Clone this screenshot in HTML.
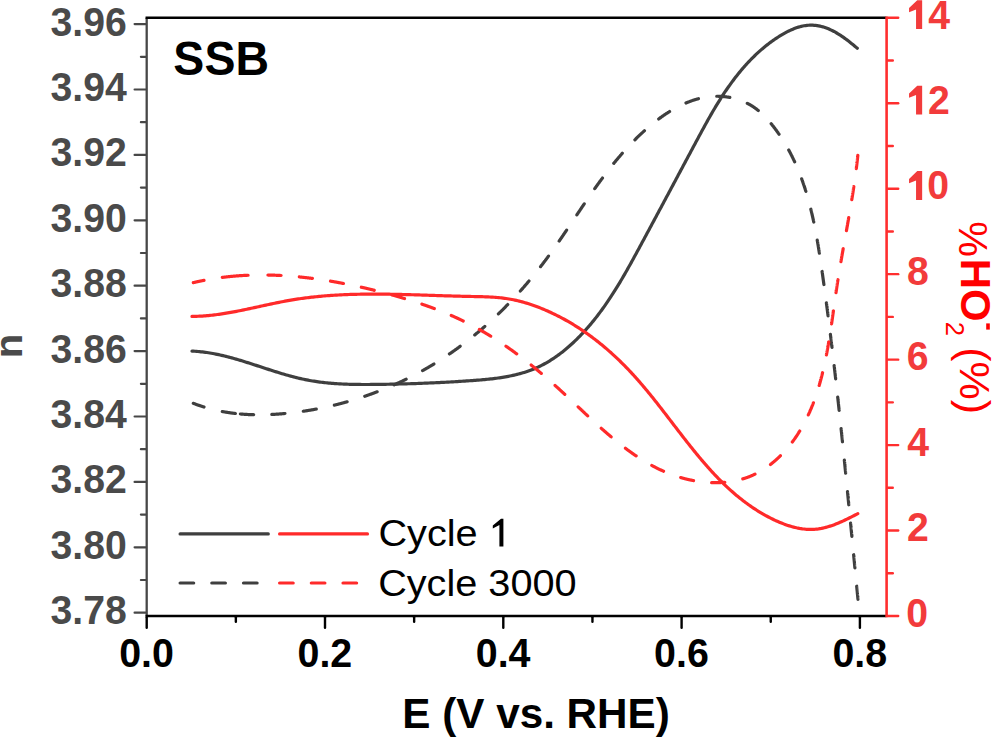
<!DOCTYPE html>
<html><head><meta charset="utf-8"><style>
html,body{margin:0;padding:0;background:#fff;width:992px;height:738px;overflow:hidden}
svg{position:absolute;left:0;top:0}
.b{font-family:"Liberation Sans",sans-serif;font-weight:bold}
.r{font-family:"Liberation Sans",sans-serif}
</style></head><body>
<svg width="992" height="738" viewBox="0 0 992 738">
<line x1="146.7" y1="17.8" x2="146.7" y2="616.0" stroke="#474747" stroke-width="2.3"/>
<line x1="145.54999999999998" y1="17.8" x2="886.6" y2="17.8" stroke="#000" stroke-width="2.5"/>
<line x1="145.54999999999998" y1="616.0" x2="886.6" y2="616.0" stroke="#000" stroke-width="2.5"/>
<line x1="886.6" y1="16.55" x2="886.6" y2="617.25" stroke="#ff2e2e" stroke-width="2.6"/>
<line x1="134.6" y1="612.70" x2="145.6" y2="612.70" stroke="#474747" stroke-width="2.2" stroke-linecap="round"/>
<line x1="140.9" y1="580.00" x2="145.6" y2="580.00" stroke="#474747" stroke-width="2.2" stroke-linecap="round"/>
<g transform="matrix(0.9799,0,0,1.0221,126.81,624.22)"><text x="0" y="0" text-anchor="end" class="b" font-size="40" fill="#4a4a4a">3.78</text></g>
<line x1="134.6" y1="547.30" x2="145.6" y2="547.30" stroke="#474747" stroke-width="2.2" stroke-linecap="round"/>
<line x1="140.9" y1="514.60" x2="145.6" y2="514.60" stroke="#474747" stroke-width="2.2" stroke-linecap="round"/>
<g transform="matrix(0.9799,0,0,1.0221,126.81,558.82)"><text x="0" y="0" text-anchor="end" class="b" font-size="40" fill="#4a4a4a">3.80</text></g>
<line x1="134.6" y1="481.90" x2="145.6" y2="481.90" stroke="#474747" stroke-width="2.2" stroke-linecap="round"/>
<line x1="140.9" y1="449.20" x2="145.6" y2="449.20" stroke="#474747" stroke-width="2.2" stroke-linecap="round"/>
<g transform="matrix(0.9799,0,0,1.0221,126.81,493.42)"><text x="0" y="0" text-anchor="end" class="b" font-size="40" fill="#4a4a4a">3.82</text></g>
<line x1="134.6" y1="416.50" x2="145.6" y2="416.50" stroke="#474747" stroke-width="2.2" stroke-linecap="round"/>
<line x1="140.9" y1="383.80" x2="145.6" y2="383.80" stroke="#474747" stroke-width="2.2" stroke-linecap="round"/>
<g transform="matrix(0.9799,0,0,1.0221,126.81,428.02)"><text x="0" y="0" text-anchor="end" class="b" font-size="40" fill="#4a4a4a">3.84</text></g>
<line x1="134.6" y1="351.10" x2="145.6" y2="351.10" stroke="#474747" stroke-width="2.2" stroke-linecap="round"/>
<line x1="140.9" y1="318.40" x2="145.6" y2="318.40" stroke="#474747" stroke-width="2.2" stroke-linecap="round"/>
<g transform="matrix(0.9799,0,0,1.0221,126.81,362.62)"><text x="0" y="0" text-anchor="end" class="b" font-size="40" fill="#4a4a4a">3.86</text></g>
<line x1="134.6" y1="285.70" x2="145.6" y2="285.70" stroke="#474747" stroke-width="2.2" stroke-linecap="round"/>
<line x1="140.9" y1="253.00" x2="145.6" y2="253.00" stroke="#474747" stroke-width="2.2" stroke-linecap="round"/>
<g transform="matrix(0.9799,0,0,1.0221,126.81,297.22)"><text x="0" y="0" text-anchor="end" class="b" font-size="40" fill="#4a4a4a">3.88</text></g>
<line x1="134.6" y1="220.30" x2="145.6" y2="220.30" stroke="#474747" stroke-width="2.2" stroke-linecap="round"/>
<line x1="140.9" y1="187.60" x2="145.6" y2="187.60" stroke="#474747" stroke-width="2.2" stroke-linecap="round"/>
<g transform="matrix(0.9799,0,0,1.0221,126.81,231.82)"><text x="0" y="0" text-anchor="end" class="b" font-size="40" fill="#4a4a4a">3.90</text></g>
<line x1="134.6" y1="154.90" x2="145.6" y2="154.90" stroke="#474747" stroke-width="2.2" stroke-linecap="round"/>
<line x1="140.9" y1="122.20" x2="145.6" y2="122.20" stroke="#474747" stroke-width="2.2" stroke-linecap="round"/>
<g transform="matrix(0.9799,0,0,1.0221,126.81,166.42)"><text x="0" y="0" text-anchor="end" class="b" font-size="40" fill="#4a4a4a">3.92</text></g>
<line x1="134.6" y1="89.50" x2="145.6" y2="89.50" stroke="#474747" stroke-width="2.2" stroke-linecap="round"/>
<line x1="140.9" y1="56.80" x2="145.6" y2="56.80" stroke="#474747" stroke-width="2.2" stroke-linecap="round"/>
<g transform="matrix(0.9799,0,0,1.0221,126.81,101.02)"><text x="0" y="0" text-anchor="end" class="b" font-size="40" fill="#4a4a4a">3.94</text></g>
<line x1="134.6" y1="24.10" x2="145.6" y2="24.10" stroke="#474747" stroke-width="2.2" stroke-linecap="round"/>
<g transform="matrix(0.9799,0,0,1.0221,126.81,35.62)"><text x="0" y="0" text-anchor="end" class="b" font-size="40" fill="#4a4a4a">3.96</text></g>
<line x1="146.70" y1="617.2" x2="146.70" y2="627.8" stroke="#000" stroke-width="2.4" stroke-linecap="round"/>
<g transform="matrix(0.9845,0,0,1.0357,146.54,667.00)"><text x="0" y="0" text-anchor="middle" class="b" font-size="40" fill="#000">0.0</text></g>
<line x1="235.85" y1="617.2" x2="235.85" y2="621.8" stroke="#000" stroke-width="2.4" stroke-linecap="round"/>
<line x1="325.00" y1="617.2" x2="325.00" y2="627.8" stroke="#000" stroke-width="2.4" stroke-linecap="round"/>
<g transform="matrix(0.9845,0,0,1.0357,324.84,667.00)"><text x="0" y="0" text-anchor="middle" class="b" font-size="40" fill="#000">0.2</text></g>
<line x1="414.15" y1="617.2" x2="414.15" y2="621.8" stroke="#000" stroke-width="2.4" stroke-linecap="round"/>
<line x1="503.30" y1="617.2" x2="503.30" y2="627.8" stroke="#000" stroke-width="2.4" stroke-linecap="round"/>
<g transform="matrix(0.9845,0,0,1.0357,503.14,667.00)"><text x="0" y="0" text-anchor="middle" class="b" font-size="40" fill="#000">0.4</text></g>
<line x1="592.45" y1="617.2" x2="592.45" y2="621.8" stroke="#000" stroke-width="2.4" stroke-linecap="round"/>
<line x1="681.60" y1="617.2" x2="681.60" y2="627.8" stroke="#000" stroke-width="2.4" stroke-linecap="round"/>
<g transform="matrix(0.9845,0,0,1.0357,681.44,667.00)"><text x="0" y="0" text-anchor="middle" class="b" font-size="40" fill="#000">0.6</text></g>
<line x1="770.75" y1="617.2" x2="770.75" y2="621.8" stroke="#000" stroke-width="2.4" stroke-linecap="round"/>
<line x1="859.90" y1="617.2" x2="859.90" y2="627.8" stroke="#000" stroke-width="2.4" stroke-linecap="round"/>
<g transform="matrix(0.9845,0,0,1.0357,859.74,667.00)"><text x="0" y="0" text-anchor="middle" class="b" font-size="40" fill="#000">0.8</text></g>
<line x1="887.8000000000001" y1="616.00" x2="898.2" y2="616.00" stroke="#ff2e2e" stroke-width="2.4" stroke-linecap="round"/>
<g transform="matrix(0.9808,0,0,1.0120,906.33,626.73)"><text x="0" y="0" text-anchor="start" class="b" font-size="40" fill="#f23b3b">0</text></g>
<line x1="887.8000000000001" y1="573.27" x2="892.8000000000001" y2="573.27" stroke="#ff2e2e" stroke-width="2.4" stroke-linecap="round"/>
<line x1="887.8000000000001" y1="530.54" x2="898.2" y2="530.54" stroke="#ff2e2e" stroke-width="2.4" stroke-linecap="round"/>
<g transform="matrix(0.9808,0,0,1.0120,906.89,541.27)"><text x="0" y="0" text-anchor="start" class="b" font-size="40" fill="#f23b3b">2</text></g>
<line x1="887.8000000000001" y1="487.81" x2="892.8000000000001" y2="487.81" stroke="#ff2e2e" stroke-width="2.4" stroke-linecap="round"/>
<line x1="887.8000000000001" y1="445.09" x2="898.2" y2="445.09" stroke="#ff2e2e" stroke-width="2.4" stroke-linecap="round"/>
<g transform="matrix(0.9808,0,0,1.0120,907.31,455.82)"><text x="0" y="0" text-anchor="start" class="b" font-size="40" fill="#f23b3b">4</text></g>
<line x1="887.8000000000001" y1="402.36" x2="892.8000000000001" y2="402.36" stroke="#ff2e2e" stroke-width="2.4" stroke-linecap="round"/>
<line x1="887.8000000000001" y1="359.63" x2="898.2" y2="359.63" stroke="#ff2e2e" stroke-width="2.4" stroke-linecap="round"/>
<g transform="matrix(0.9808,0,0,1.0120,906.80,370.36)"><text x="0" y="0" text-anchor="start" class="b" font-size="40" fill="#f23b3b">6</text></g>
<line x1="887.8000000000001" y1="316.90" x2="892.8000000000001" y2="316.90" stroke="#ff2e2e" stroke-width="2.4" stroke-linecap="round"/>
<line x1="887.8000000000001" y1="274.17" x2="898.2" y2="274.17" stroke="#ff2e2e" stroke-width="2.4" stroke-linecap="round"/>
<g transform="matrix(0.9808,0,0,1.0120,906.97,284.90)"><text x="0" y="0" text-anchor="start" class="b" font-size="40" fill="#f23b3b">8</text></g>
<line x1="887.8000000000001" y1="231.44" x2="892.8000000000001" y2="231.44" stroke="#ff2e2e" stroke-width="2.4" stroke-linecap="round"/>
<line x1="887.8000000000001" y1="188.71" x2="898.2" y2="188.71" stroke="#ff2e2e" stroke-width="2.4" stroke-linecap="round"/>
<path d="M922.15,199.91 L916.05,199.91 L916.05,180.51 L909.05,183.21 L909.05,179.01 L917.25,171.11 L922.15,171.11 Z" fill="#f23b3b"/>
<g transform="matrix(0.9808,0,0,1.0120,927.33,199.45)"><text x="0" y="0" text-anchor="start" class="b" font-size="40" fill="#f23b3b">0</text></g>
<line x1="887.8000000000001" y1="145.99" x2="892.8000000000001" y2="145.99" stroke="#ff2e2e" stroke-width="2.4" stroke-linecap="round"/>
<line x1="887.8000000000001" y1="103.26" x2="898.2" y2="103.26" stroke="#ff2e2e" stroke-width="2.4" stroke-linecap="round"/>
<path d="M922.15,114.46 L916.05,114.46 L916.05,95.06 L909.05,97.76 L909.05,93.56 L917.25,85.66 L922.15,85.66 Z" fill="#f23b3b"/>
<g transform="matrix(0.9808,0,0,1.0120,927.89,113.99)"><text x="0" y="0" text-anchor="start" class="b" font-size="40" fill="#f23b3b">2</text></g>
<line x1="887.8000000000001" y1="60.53" x2="892.8000000000001" y2="60.53" stroke="#ff2e2e" stroke-width="2.4" stroke-linecap="round"/>
<line x1="887.8000000000001" y1="17.80" x2="898.2" y2="17.80" stroke="#ff2e2e" stroke-width="2.4" stroke-linecap="round"/>
<path d="M922.15,29.00 L916.05,29.00 L916.05,9.60 L909.05,12.30 L909.05,8.10 L917.25,0.20 L922.15,0.20 Z" fill="#f23b3b"/>
<g transform="matrix(0.9808,0,0,1.0120,928.31,28.53)"><text x="0" y="0" text-anchor="start" class="b" font-size="40" fill="#f23b3b">4</text></g>
<g transform="matrix(1.1632,0,0,1.1964,173.36,75.00)"><text x="0" y="0" text-anchor="start" class="b" font-size="40" fill="#000">SSB</text></g>
<g transform="matrix(1.0558,0,0,1.0500,402.32,728.00)"><text x="0" y="0" text-anchor="start" class="b" font-size="40" fill="#000">E (V vs. RHE)</text></g>
<g transform="matrix(0.9585,0,0,1.0025,22.07,358.16)"><g transform="rotate(-90)"><text x="0" y="0" text-anchor="start" class="b" font-size="40" fill="#4a4a4a">n</text></g></g>
<g transform="matrix(0.9917,0,0,0.9184,378.45,546.05)"><text x="0" y="0" text-anchor="start" class="r" font-size="40" fill="#000">Cycle </text></g>
<path d="M503.4,546.6 L499.4,546.6 L499.4,524.9 L492.8,528.6 L492.8,525.5 L501,518.8 L503.4,518.8 Z" fill="#000"/>
<g transform="matrix(0.9917,0,0,0.9184,378.15,595.95)"><text x="0" y="0" text-anchor="start" class="r" font-size="40" fill="#000">Cycle 3000</text></g>
<g transform="matrix(1.0025,0,0,1.0025,959.37,221.26)"><g transform="rotate(90)"><text x="0" y="0" text-anchor="start" class="r" font-size="40" fill="#ff0000">%</text></g></g>
<g transform="matrix(1.0481,0,0,1.0481,960.67,258.82)"><g transform="rotate(90)"><text x="0" y="0" text-anchor="start" class="b" font-size="40" fill="#ff0000">HO</text></g></g>
<g transform="matrix(1.0742,0,0,1.0742,959.86,347.28)"><g transform="rotate(90)"><text x="0" y="0" text-anchor="start" class="r" font-size="40" fill="#ff0000">(%)</text></g></g>
<g transform="matrix(0.6478,0,0,0.6465,946.12,321.71)"><g transform="rotate(90)"><text x="0" y="0" text-anchor="start" class="r" font-size="40" fill="#ff0000">2</text></g></g>
<rect x="986.2" y="323.4" width="3.6" height="6.2" fill="#ff0000"/>
<line x1="180.1" y1="533.9" x2="268.3" y2="533.9" stroke="#3f3f3f" stroke-width="3.2" stroke-linecap="round"/>
<line x1="279.6" y1="533.9" x2="367.5" y2="533.9" stroke="#ff2a2a" stroke-width="3.2" stroke-linecap="round"/>
<line x1="180.1" y1="583" x2="260" y2="583" stroke="#3f3f3f" stroke-width="3.2" stroke-linecap="round" stroke-dasharray="13.6 18.1"/>
<line x1="279.6" y1="583" x2="360" y2="583" stroke="#ff2a2a" stroke-width="3.2" stroke-linecap="round" stroke-dasharray="13.6 18.1"/>
<path d="M191.99,351.11 L193.49,351.18 L195.00,351.27 L196.50,351.38 L198.00,351.50 L199.49,351.63 L200.98,351.79 L202.47,351.95 L203.96,352.13 L205.44,352.33 L206.92,352.54 L208.40,352.76 L209.88,353.00 L211.35,353.25 L212.82,353.51 L214.29,353.79 L215.76,354.07 L217.22,354.37 L218.69,354.68 L220.15,355.00 L221.60,355.33 L223.06,355.67 L224.52,356.02 L225.97,356.38 L227.42,356.74 L228.87,357.12 L230.32,357.50 L231.77,357.90 L233.21,358.29 L234.66,358.70 L236.10,359.11 L237.54,359.53 L238.98,359.96 L240.42,360.39 L241.86,360.82 L243.30,361.26 L244.74,361.71 L246.17,362.16 L247.61,362.61 L249.04,363.07 L250.48,363.53 L251.91,363.99 L253.34,364.45 L254.78,364.92 L256.21,365.39 L257.64,365.86 L259.07,366.33 L260.51,366.80 L261.94,367.27 L263.37,367.74 L264.80,368.21 L266.23,368.68 L267.67,369.14 L269.10,369.61 L270.53,370.07 L271.96,370.53 L273.40,370.99 L274.83,371.45 L276.27,371.90 L277.70,372.34 L279.14,372.79 L280.58,373.23 L282.01,373.66 L283.45,374.09 L284.89,374.51 L286.33,374.92 L287.77,375.33 L289.22,375.74 L290.66,376.13 L292.11,376.52 L293.56,376.90 L295.00,377.27 L296.45,377.63 L297.91,377.99 L299.36,378.33 L300.81,378.67 L302.27,378.99 L303.73,379.31 L305.19,379.61 L306.65,379.90 L308.12,380.18 L309.58,380.45 L311.05,380.71 L312.52,380.96 L314.00,381.20 L315.47,381.42 L316.95,381.64 L318.42,381.85 L319.90,382.04 L321.38,382.23 L322.86,382.41 L324.35,382.58 L325.83,382.74 L327.32,382.89 L328.81,383.04 L330.29,383.17 L331.78,383.30 L333.27,383.42 L334.77,383.53 L336.26,383.64 L337.75,383.73 L339.25,383.82 L340.74,383.91 L342.24,383.98 L343.74,384.05 L345.24,384.12 L346.73,384.18 L348.23,384.23 L349.73,384.28 L351.23,384.32 L352.73,384.36 L354.23,384.39 L355.74,384.42 L357.24,384.44 L358.74,384.46 L360.24,384.47 L361.74,384.48 L363.25,384.49 L364.75,384.49 L366.25,384.49 L367.75,384.49 L369.25,384.48 L370.76,384.47 L372.26,384.46 L373.76,384.45 L375.26,384.43 L376.76,384.42 L378.26,384.40 L379.76,384.38 L381.26,384.36 L382.76,384.34 L384.26,384.31 L385.75,384.29 L387.25,384.26 L388.75,384.23 L390.24,384.21 L391.74,384.18 L393.23,384.15 L394.73,384.11 L396.22,384.08 L397.72,384.05 L399.21,384.01 L400.71,383.97 L402.20,383.94 L403.69,383.90 L405.19,383.86 L406.68,383.81 L408.17,383.77 L409.66,383.73 L411.16,383.68 L412.65,383.63 L414.14,383.58 L415.63,383.53 L417.13,383.48 L418.62,383.43 L420.11,383.38 L421.60,383.32 L423.09,383.26 L424.59,383.21 L426.08,383.15 L427.57,383.09 L429.06,383.02 L430.56,382.96 L432.05,382.89 L433.54,382.83 L435.04,382.76 L436.53,382.69 L438.02,382.62 L439.52,382.55 L441.01,382.47 L442.51,382.40 L444.00,382.32 L445.50,382.24 L446.99,382.16 L448.49,382.08 L449.99,381.99 L451.48,381.91 L452.98,381.82 L454.48,381.73 L455.98,381.65 L457.48,381.55 L458.98,381.46 L460.48,381.37 L461.98,381.27 L463.48,381.17 L464.99,381.07 L466.49,380.97 L467.99,380.87 L469.50,380.77 L471.00,380.66 L472.51,380.55 L474.02,380.44 L475.52,380.33 L477.03,380.21 L478.54,380.09 L480.04,379.97 L481.55,379.84 L483.06,379.71 L484.56,379.57 L486.06,379.43 L487.57,379.28 L489.07,379.12 L490.57,378.96 L492.07,378.79 L493.56,378.61 L495.06,378.42 L496.55,378.23 L498.04,378.03 L499.52,377.82 L501.01,377.59 L502.49,377.36 L503.97,377.12 L505.44,376.87 L506.91,376.60 L508.38,376.33 L509.84,376.04 L511.30,375.74 L512.76,375.43 L514.21,375.10 L515.65,374.76 L517.09,374.41 L518.53,374.04 L519.96,373.65 L521.39,373.26 L522.81,372.84 L524.22,372.41 L525.63,371.97 L527.03,371.50 L528.43,371.02 L529.82,370.52 L531.20,370.01 L532.58,369.47 L533.95,368.92 L535.31,368.34 L536.67,367.75 L538.02,367.14 L539.36,366.51 L540.69,365.85 L542.01,365.18 L543.33,364.49 L544.64,363.78 L545.94,363.06 L547.24,362.31 L548.52,361.55 L549.80,360.77 L551.07,359.98 L552.33,359.17 L553.59,358.34 L554.83,357.50 L556.07,356.64 L557.30,355.77 L558.53,354.88 L559.74,353.98 L560.95,353.07 L562.14,352.14 L563.33,351.20 L564.51,350.25 L565.69,349.28 L566.85,348.30 L568.01,347.32 L569.16,346.32 L570.29,345.31 L571.43,344.29 L572.55,343.26 L573.66,342.22 L574.77,341.17 L575.86,340.12 L576.95,339.05 L578.03,337.98 L579.10,336.90 L580.16,335.81 L581.21,334.72 L582.26,333.62 L583.29,332.51 L584.32,331.39 L585.33,330.28 L586.34,329.15 L587.34,328.02 L588.33,326.89 L589.32,325.75 L590.29,324.60 L591.26,323.45 L592.21,322.29 L593.17,321.13 L594.11,319.97 L595.04,318.80 L595.97,317.62 L596.89,316.44 L597.81,315.26 L598.71,314.07 L599.61,312.87 L600.50,311.67 L601.39,310.47 L602.27,309.27 L603.14,308.05 L604.01,306.84 L604.87,305.62 L605.72,304.40 L606.57,303.17 L607.41,301.94 L608.25,300.71 L609.08,299.47 L609.91,298.23 L610.73,296.98 L611.54,295.74 L612.35,294.48 L613.16,293.23 L613.96,291.97 L614.75,290.71 L615.55,289.45 L616.33,288.18 L617.12,286.91 L617.89,285.64 L618.67,284.36 L619.44,283.09 L620.21,281.81 L620.97,280.52 L621.73,279.24 L622.48,277.95 L623.24,276.66 L623.99,275.37 L624.73,274.08 L625.48,272.78 L626.22,271.48 L626.96,270.18 L627.69,268.88 L628.43,267.58 L629.16,266.27 L629.89,264.97 L630.61,263.66 L631.34,262.35 L632.06,261.04 L632.79,259.73 L633.51,258.42 L634.23,257.10 L634.94,255.79 L635.66,254.48 L636.38,253.16 L637.09,251.84 L637.80,250.52 L638.52,249.21 L639.23,247.89 L639.94,246.57 L640.66,245.25 L641.37,243.93 L642.08,242.61 L642.79,241.29 L643.51,239.97 L644.22,238.65 L644.93,237.32 L645.64,236.00 L646.35,234.68 L647.06,233.36 L647.78,232.04 L648.49,230.72 L649.20,229.39 L649.91,228.07 L650.62,226.75 L651.33,225.42 L652.04,224.10 L652.75,222.78 L653.46,221.45 L654.17,220.13 L654.88,218.81 L655.59,217.48 L656.30,216.16 L657.01,214.83 L657.72,213.51 L658.43,212.18 L659.14,210.86 L659.85,209.54 L660.56,208.21 L661.27,206.89 L661.98,205.56 L662.69,204.24 L663.40,202.91 L664.11,201.59 L664.82,200.26 L665.52,198.94 L666.23,197.61 L666.94,196.29 L667.65,194.96 L668.36,193.64 L669.07,192.31 L669.78,190.99 L670.48,189.66 L671.19,188.34 L671.90,187.02 L672.61,185.69 L673.32,184.37 L674.02,183.04 L674.73,181.72 L675.44,180.40 L676.15,179.07 L676.85,177.75 L677.56,176.42 L678.27,175.10 L678.97,173.78 L679.68,172.45 L680.39,171.13 L681.10,169.81 L681.80,168.49 L682.51,167.16 L683.22,165.84 L683.92,164.52 L684.63,163.20 L685.34,161.88 L686.04,160.56 L686.75,159.24 L687.45,157.92 L688.16,156.60 L688.87,155.28 L689.57,153.96 L690.28,152.64 L690.98,151.32 L691.69,150.00 L692.40,148.68 L693.10,147.36 L693.81,146.05 L694.51,144.73 L695.22,143.41 L695.92,142.10 L696.63,140.78 L697.33,139.46 L698.04,138.15 L698.75,136.83 L699.45,135.52 L700.16,134.21 L700.87,132.89 L701.58,131.58 L702.29,130.27 L703.00,128.96 L703.71,127.65 L704.43,126.35 L705.15,125.04 L705.87,123.73 L706.59,122.43 L707.31,121.13 L708.04,119.83 L708.77,118.53 L709.50,117.23 L710.24,115.93 L710.98,114.64 L711.73,113.35 L712.48,112.06 L713.23,110.77 L713.98,109.48 L714.75,108.20 L715.51,106.92 L716.28,105.64 L717.06,104.36 L717.84,103.09 L718.62,101.81 L719.42,100.54 L720.21,99.28 L721.02,98.01 L721.83,96.75 L722.64,95.49 L723.47,94.24 L724.29,92.98 L725.13,91.73 L725.97,90.49 L726.82,89.25 L727.68,88.01 L728.54,86.78 L729.41,85.55 L730.28,84.32 L731.17,83.10 L732.06,81.89 L732.96,80.68 L733.86,79.47 L734.77,78.27 L735.69,77.08 L736.62,75.89 L737.56,74.71 L738.50,73.54 L739.45,72.37 L740.41,71.21 L741.38,70.05 L742.35,68.90 L743.33,67.76 L744.33,66.63 L745.32,65.50 L746.33,64.39 L747.35,63.28 L748.37,62.18 L749.41,61.08 L750.45,60.00 L751.50,58.92 L752.56,57.85 L753.63,56.80 L754.70,55.75 L755.79,54.71 L756.88,53.68 L757.99,52.66 L759.10,51.65 L760.22,50.65 L761.36,49.66 L762.50,48.68 L763.65,47.72 L764.81,46.76 L765.98,45.81 L767.16,44.88 L768.36,43.96 L769.56,43.05 L770.77,42.15 L771.99,41.26 L773.22,40.39 L774.46,39.53 L775.71,38.68 L776.97,37.84 L778.25,37.02 L779.53,36.21 L780.82,35.42 L782.13,34.64 L783.44,33.87 L784.77,33.13 L786.10,32.40 L787.44,31.70 L788.80,31.02 L790.16,30.37 L791.52,29.75 L792.90,29.16 L794.28,28.60 L795.67,28.08 L797.07,27.59 L798.47,27.15 L799.88,26.74 L801.30,26.37 L802.72,26.05 L804.14,25.78 L805.57,25.55 L807.01,25.38 L808.44,25.25 L809.89,25.18 L811.33,25.16 L812.77,25.19 L814.22,25.28 L815.66,25.41 L817.10,25.60 L818.54,25.83 L819.98,26.12 L821.41,26.45 L822.84,26.84 L824.26,27.27 L825.67,27.75 L827.08,28.27 L828.48,28.83 L829.87,29.44 L831.25,30.08 L832.62,30.76 L833.98,31.47 L835.34,32.22 L836.68,32.99 L838.00,33.78 L839.32,34.61 L840.63,35.45 L841.92,36.31 L843.19,37.19 L844.46,38.09 L845.71,39.00 L846.94,39.91 L848.16,40.84 L849.36,41.77 L850.55,42.71 L851.72,43.65 L852.87,44.58 L854.01,45.52 L855.12,46.45 L856.22,47.37 L857.29,48.28" fill="none" stroke="#3f3f3f" stroke-width="3.2" stroke-linecap="round" stroke-linejoin="round"/>
<path d="M191.96,316.41 L193.47,316.39 L194.97,316.36 L196.48,316.32 L197.98,316.27 L199.48,316.20 L200.98,316.12 L202.47,316.03 L203.97,315.93 L205.46,315.81 L206.95,315.68 L208.44,315.55 L209.93,315.40 L211.42,315.25 L212.91,315.08 L214.39,314.90 L215.88,314.72 L217.36,314.52 L218.84,314.32 L220.32,314.11 L221.80,313.89 L223.28,313.67 L224.76,313.43 L226.24,313.19 L227.71,312.94 L229.19,312.69 L230.66,312.43 L232.14,312.16 L233.61,311.89 L235.08,311.61 L236.55,311.33 L238.02,311.04 L239.50,310.75 L240.96,310.46 L242.43,310.16 L243.90,309.86 L245.37,309.55 L246.84,309.24 L248.31,308.93 L249.77,308.62 L251.24,308.30 L252.71,307.99 L254.17,307.67 L255.64,307.35 L257.11,307.03 L258.57,306.71 L260.04,306.39 L261.51,306.06 L262.97,305.74 L264.44,305.42 L265.90,305.11 L267.37,304.79 L268.84,304.47 L270.30,304.16 L271.77,303.85 L273.24,303.54 L274.71,303.23 L276.17,302.93 L277.64,302.63 L279.11,302.33 L280.58,302.04 L282.05,301.75 L283.52,301.47 L284.99,301.19 L286.47,300.92 L287.94,300.65 L289.41,300.39 L290.89,300.14 L292.36,299.89 L293.84,299.64 L295.31,299.41 L296.79,299.18 L298.27,298.95 L299.75,298.74 L301.23,298.52 L302.71,298.32 L304.19,298.12 L305.67,297.92 L307.15,297.74 L308.63,297.55 L310.12,297.38 L311.60,297.20 L313.09,297.04 L314.57,296.88 L316.06,296.72 L317.54,296.57 L319.03,296.43 L320.52,296.29 L322.01,296.15 L323.49,296.02 L324.98,295.90 L326.47,295.78 L327.96,295.66 L329.45,295.55 L330.95,295.45 L332.44,295.35 L333.93,295.25 L335.42,295.16 L336.91,295.07 L338.41,294.99 L339.90,294.91 L341.39,294.83 L342.89,294.76 L344.38,294.69 L345.88,294.63 L347.37,294.57 L348.87,294.52 L350.36,294.46 L351.86,294.42 L353.36,294.37 L354.85,294.33 L356.35,294.29 L357.85,294.26 L359.34,294.23 L360.84,294.20 L362.34,294.18 L363.83,294.16 L365.33,294.14 L366.83,294.12 L368.33,294.11 L369.83,294.10 L371.32,294.10 L372.82,294.09 L374.32,294.09 L375.82,294.09 L377.32,294.10 L378.82,294.10 L380.31,294.11 L381.81,294.12 L383.31,294.14 L384.81,294.15 L386.31,294.17 L387.80,294.19 L389.30,294.21 L390.80,294.24 L392.30,294.26 L393.80,294.29 L395.29,294.32 L396.79,294.35 L398.29,294.38 L399.78,294.41 L401.28,294.45 L402.78,294.48 L404.28,294.52 L405.77,294.56 L407.27,294.60 L408.77,294.64 L410.26,294.68 L411.76,294.73 L413.26,294.77 L414.75,294.81 L416.25,294.86 L417.75,294.91 L419.25,294.95 L420.74,295.00 L422.24,295.05 L423.74,295.10 L425.23,295.15 L426.73,295.19 L428.23,295.24 L429.72,295.29 L431.22,295.34 L432.72,295.39 L434.21,295.44 L435.71,295.49 L437.21,295.54 L438.71,295.59 L440.20,295.64 L441.70,295.69 L443.20,295.74 L444.70,295.79 L446.19,295.83 L447.69,295.88 L449.19,295.93 L450.69,295.97 L452.19,296.02 L453.68,296.06 L455.18,296.10 L456.68,296.14 L458.18,296.19 L459.68,296.22 L461.18,296.26 L462.68,296.30 L464.18,296.34 L465.68,296.37 L467.18,296.40 L468.68,296.44 L470.18,296.47 L471.68,296.49 L473.18,296.52 L474.68,296.55 L476.18,296.58 L477.68,296.61 L479.18,296.64 L480.68,296.68 L482.17,296.72 L483.67,296.76 L485.17,296.81 L486.67,296.87 L488.16,296.93 L489.66,297.00 L491.15,297.08 L492.65,297.17 L494.14,297.26 L495.63,297.37 L497.12,297.49 L498.61,297.63 L500.10,297.77 L501.58,297.93 L503.07,298.11 L504.55,298.30 L506.03,298.50 L507.51,298.72 L508.98,298.97 L510.46,299.22 L511.93,299.50 L513.40,299.79 L514.86,300.10 L516.33,300.42 L517.79,300.76 L519.25,301.12 L520.70,301.49 L522.16,301.87 L523.61,302.27 L525.05,302.69 L526.50,303.12 L527.94,303.56 L529.37,304.02 L530.80,304.49 L532.23,304.97 L533.66,305.47 L535.08,305.98 L536.49,306.50 L537.90,307.03 L539.31,307.57 L540.71,308.13 L542.11,308.69 L543.50,309.27 L544.89,309.86 L546.27,310.45 L547.65,311.06 L549.02,311.68 L550.39,312.30 L551.75,312.94 L553.11,313.58 L554.46,314.23 L555.80,314.89 L557.14,315.56 L558.48,316.24 L559.81,316.92 L561.13,317.62 L562.45,318.32 L563.76,319.03 L565.06,319.75 L566.37,320.48 L567.66,321.21 L568.95,321.96 L570.24,322.71 L571.52,323.46 L572.79,324.23 L574.06,325.01 L575.32,325.79 L576.58,326.58 L577.83,327.37 L579.08,328.18 L580.32,328.99 L581.56,329.81 L582.79,330.64 L584.02,331.47 L585.24,332.32 L586.45,333.16 L587.66,334.02 L588.87,334.88 L590.07,335.75 L591.27,336.63 L592.46,337.52 L593.64,338.41 L594.82,339.31 L596.00,340.21 L597.17,341.12 L598.33,342.04 L599.49,342.97 L600.65,343.90 L601.80,344.84 L602.94,345.78 L604.08,346.73 L605.22,347.69 L606.35,348.66 L607.48,349.63 L608.60,350.60 L609.71,351.59 L610.83,352.57 L611.93,353.57 L613.03,354.57 L614.13,355.58 L615.22,356.59 L616.31,357.61 L617.39,358.63 L618.47,359.66 L619.55,360.70 L620.62,361.74 L621.68,362.79 L622.74,363.84 L623.79,364.90 L624.85,365.96 L625.89,367.03 L626.93,368.11 L627.97,369.19 L629.00,370.27 L630.03,371.36 L631.05,372.46 L632.07,373.56 L633.09,374.66 L634.10,375.77 L635.10,376.89 L636.11,378.01 L637.10,379.13 L638.10,380.26 L639.09,381.39 L640.08,382.53 L641.06,383.67 L642.04,384.81 L643.02,385.96 L643.99,387.11 L644.96,388.27 L645.93,389.42 L646.89,390.59 L647.85,391.75 L648.81,392.92 L649.76,394.09 L650.72,395.26 L651.67,396.44 L652.62,397.62 L653.56,398.80 L654.51,399.98 L655.45,401.17 L656.39,402.36 L657.33,403.55 L658.26,404.74 L659.20,405.93 L660.13,407.13 L661.06,408.33 L661.99,409.52 L662.92,410.72 L663.85,411.92 L664.78,413.12 L665.70,414.33 L666.63,415.53 L667.55,416.73 L668.48,417.94 L669.40,419.14 L670.32,420.35 L671.25,421.55 L672.17,422.76 L673.09,423.96 L674.01,425.17 L674.94,426.37 L675.86,427.58 L676.78,428.78 L677.70,429.98 L678.63,431.18 L679.55,432.38 L680.48,433.58 L681.40,434.78 L682.33,435.98 L683.26,437.18 L684.19,438.37 L685.12,439.56 L686.05,440.75 L686.98,441.94 L687.91,443.13 L688.85,444.32 L689.79,445.50 L690.73,446.68 L691.67,447.86 L692.61,449.03 L693.56,450.21 L694.51,451.38 L695.46,452.54 L696.41,453.71 L697.36,454.87 L698.32,456.02 L699.28,457.18 L700.24,458.33 L701.21,459.47 L702.18,460.62 L703.15,461.76 L704.13,462.89 L705.11,464.02 L706.09,465.15 L707.07,466.27 L708.06,467.39 L709.06,468.50 L710.05,469.61 L711.06,470.71 L712.06,471.81 L713.07,472.90 L714.08,473.99 L715.10,475.07 L716.12,476.15 L717.15,477.22 L718.18,478.28 L719.22,479.34 L720.26,480.40 L721.31,481.45 L722.36,482.49 L723.41,483.52 L724.48,484.55 L725.54,485.57 L726.62,486.59 L727.69,487.60 L728.78,488.60 L729.87,489.59 L730.96,490.58 L732.06,491.56 L733.17,492.53 L734.28,493.50 L735.40,494.46 L736.53,495.41 L737.66,496.35 L738.80,497.28 L739.95,498.21 L741.10,499.12 L742.26,500.03 L743.43,500.93 L744.60,501.83 L745.78,502.71 L746.97,503.58 L748.17,504.45 L749.37,505.30 L750.58,506.15 L751.80,506.99 L753.03,507.82 L754.26,508.64 L755.51,509.45 L756.76,510.24 L758.01,511.03 L759.28,511.81 L760.56,512.58 L761.84,513.34 L763.13,514.09 L764.44,514.83 L765.75,515.55 L767.06,516.27 L768.39,516.98 L769.73,517.67 L771.08,518.35 L772.43,519.03 L773.80,519.69 L775.17,520.33 L776.55,520.97 L777.94,521.58 L779.34,522.18 L780.74,522.77 L782.15,523.33 L783.57,523.88 L784.99,524.41 L786.42,524.92 L787.85,525.40 L789.29,525.86 L790.74,526.30 L792.18,526.71 L793.63,527.10 L795.09,527.46 L796.55,527.80 L798.01,528.10 L799.47,528.38 L800.93,528.62 L802.40,528.84 L803.86,529.02 L805.33,529.17 L806.80,529.28 L808.27,529.36 L809.73,529.41 L811.20,529.41 L812.66,529.38 L814.13,529.31 L815.59,529.20 L817.05,529.05 L818.51,528.86 L819.96,528.63 L821.42,528.37 L822.87,528.07 L824.31,527.74 L825.76,527.38 L827.20,526.99 L828.64,526.57 L830.07,526.12 L831.50,525.65 L832.93,525.15 L834.35,524.63 L835.77,524.08 L837.18,523.52 L838.59,522.94 L840.00,522.34 L841.40,521.72 L842.80,521.09 L844.19,520.45 L845.58,519.80 L846.96,519.13 L848.34,518.46 L849.71,517.78 L851.07,517.09 L852.43,516.40 L853.79,515.71 L855.14,515.01 L856.48,514.31 L857.82,513.62" fill="none" stroke="#ff2a2a" stroke-width="3.2" stroke-linecap="round" stroke-linejoin="round"/>
<path d="M193.30,403.32 L193.66,403.46 L194.01,403.59 L194.37,403.73 L194.72,403.86 L195.08,403.99 L195.43,404.12 L195.79,404.25 L196.15,404.38 L196.50,404.51 L196.86,404.64 L197.21,404.76 L197.57,404.89 L197.92,405.01 L198.28,405.14 L198.64,405.26 L198.99,405.38 L199.35,405.50 L199.70,405.62 L200.06,405.74 L200.41,405.86 L200.77,405.98 L201.13,406.09 L201.48,406.21 L201.84,406.32 L202.19,406.44 L202.55,406.55 L202.90,406.66 L203.26,406.77 L203.62,406.88 L203.97,406.99 L204.00,407.00 M222.29,411.51 L222.65,411.57 L223.00,411.64 L223.36,411.71 L223.71,411.77 L224.07,411.83 L224.42,411.90 L224.78,411.96 L225.13,412.02 L225.49,412.08 L225.85,412.14 L226.20,412.20 L226.56,412.26 L226.91,412.32 L227.27,412.38 L227.62,412.43 L227.98,412.49 L228.34,412.54 L228.69,412.60 L229.05,412.65 L229.40,412.70 L229.76,412.75 L230.11,412.81 L230.47,412.86 L230.83,412.91 L231.18,412.96 L231.54,413.00 L231.89,413.05 L232.25,413.10 L232.60,413.15 L232.96,413.19 L233.32,413.24 L233.67,413.28 L234.03,413.33 L234.38,413.37 L234.74,413.41 L235.09,413.45 L235.39,413.49 M240.40,413.99 L240.76,414.02 L241.11,414.05 L241.47,414.08 L241.82,414.11 L242.18,414.14 L242.54,414.17 L242.89,414.20 L243.25,414.22 L243.60,414.25 L243.96,414.27 L244.31,414.30 L244.67,414.32 L245.03,414.35 L245.38,414.37 L245.74,414.39 L246.09,414.41 L246.45,414.43 L246.80,414.45 L247.16,414.47 L247.52,414.49 L247.87,414.51 L248.23,414.53 L248.58,414.55 L248.94,414.56 L249.29,414.58 L249.65,414.59 L250.01,414.61 L250.36,414.62 L250.72,414.64 L251.07,414.65 L251.43,414.66 L251.79,414.67 L252.14,414.69 L252.50,414.70 L252.85,414.71 L253.21,414.72 L253.56,414.72 L253.59,414.73 M271.80,414.46 L272.16,414.44 L272.51,414.43 L272.87,414.41 L273.22,414.39 L273.58,414.37 L273.94,414.35 L274.29,414.33 L274.65,414.30 L275.00,414.28 L275.36,414.26 L275.71,414.24 L276.07,414.21 L276.43,414.19 L276.78,414.17 L277.14,414.14 L277.49,414.12 L277.85,414.09 L278.21,414.07 L278.56,414.04 L278.92,414.01 L279.27,413.99 L279.63,413.96 L279.99,413.93 L280.34,413.90 L280.70,413.87 L281.05,413.84 L281.41,413.82 L281.77,413.79 L282.12,413.75 L282.48,413.72 L282.83,413.69 L283.19,413.66 L283.55,413.63 L283.90,413.60 L284.26,413.56 L284.61,413.53 L284.94,413.50 M303.30,411.25 L303.65,411.20 L304.01,411.15 L304.36,411.09 L304.72,411.04 L305.07,410.98 L305.43,410.93 L305.78,410.87 L306.14,410.82 L306.49,410.76 L306.85,410.70 L307.20,410.64 L307.56,410.59 L307.91,410.53 L308.27,410.47 L308.62,410.41 L308.98,410.35 L309.34,410.29 L309.69,410.23 L310.05,410.17 L310.40,410.11 L310.75,410.05 L311.11,409.99 L311.46,409.93 L311.82,409.87 L312.17,409.80 L312.53,409.74 L312.88,409.68 L313.24,409.61 L313.59,409.55 L313.95,409.49 L314.30,409.42 L314.66,409.36 L315.01,409.29 L315.37,409.23 L315.72,409.16 L316.07,409.09 L316.28,409.05 M334.35,405.15 L334.70,405.06 L335.05,404.97 L335.40,404.89 L335.75,404.80 L336.10,404.71 L336.45,404.62 L336.80,404.54 L337.16,404.45 L337.51,404.36 L337.86,404.27 L338.21,404.18 L338.56,404.09 L338.91,404.00 L339.26,403.91 L339.61,403.82 L339.96,403.73 L340.31,403.64 L340.66,403.54 L341.01,403.45 L341.36,403.36 L341.71,403.27 L342.06,403.17 L342.41,403.08 L342.76,402.98 L343.11,402.89 L343.46,402.79 L343.81,402.70 L344.16,402.60 L344.51,402.51 L344.86,402.41 L345.21,402.31 L345.56,402.22 L345.91,402.12 L346.25,402.02 L346.60,401.92 L346.95,401.83 L347.10,401.78 M364.76,396.28 L365.10,396.16 L365.45,396.04 L365.79,395.93 L366.13,395.81 L366.47,395.69 L366.82,395.57 L367.16,395.45 L367.50,395.33 L367.85,395.21 L368.19,395.09 L368.53,394.97 L368.87,394.85 L369.22,394.73 L369.56,394.61 L369.90,394.48 L370.24,394.36 L370.58,394.24 L370.92,394.12 L371.27,393.99 L371.61,393.87 L371.95,393.74 L372.29,393.62 L372.63,393.49 L372.97,393.37 L373.31,393.24 L373.65,393.12 L373.99,392.99 L374.33,392.87 L374.67,392.74 L375.01,392.61 L375.35,392.48 L375.69,392.36 L376.03,392.23 L376.37,392.10 L376.71,391.97 L377.05,391.84 L377.14,391.81 M394.22,384.76 L394.55,384.61 L394.89,384.47 L395.22,384.32 L395.55,384.17 L395.88,384.02 L396.21,383.87 L396.54,383.72 L396.87,383.57 L397.20,383.42 L397.53,383.27 L397.86,383.12 L398.19,382.97 L398.52,382.82 L398.85,382.67 L399.18,382.52 L399.51,382.36 L399.84,382.21 L400.17,382.06 L400.50,381.91 L400.83,381.75 L401.15,381.60 L401.48,381.44 L401.81,381.29 L402.14,381.13 L402.47,380.98 L402.79,380.82 L403.12,380.67 L403.45,380.51 L403.78,380.35 L404.10,380.20 L404.43,380.04 L404.76,379.88 L405.08,379.72 L405.41,379.57 L405.73,379.41 L406.06,379.25 L406.17,379.19 M422.56,370.62 L422.88,370.45 L423.20,370.27 L423.51,370.09 L423.83,369.91 L424.14,369.74 L424.46,369.56 L424.77,369.38 L425.08,369.20 L425.40,369.02 L425.71,368.84 L426.03,368.66 L426.34,368.48 L426.65,368.30 L426.97,368.12 L427.28,367.94 L427.59,367.76 L427.91,367.58 L428.22,367.40 L428.53,367.21 L428.84,367.03 L429.15,366.85 L429.46,366.67 L429.78,366.48 L430.09,366.30 L430.40,366.11 L430.71,365.93 L431.02,365.75 L431.33,365.56 L431.64,365.37 L431.95,365.19 L432.26,365.00 L432.57,364.82 L432.88,364.63 L433.19,364.44 L433.49,364.25 L433.80,364.07 L433.93,363.99 M449.45,353.94 L449.75,353.74 L450.04,353.54 L450.34,353.33 L450.64,353.13 L450.93,352.92 L451.23,352.72 L451.53,352.51 L451.82,352.30 L452.12,352.10 L452.41,351.89 L452.71,351.68 L453.00,351.48 L453.30,351.27 L453.59,351.06 L453.89,350.85 L454.18,350.65 L454.47,350.44 L454.77,350.23 L455.06,350.02 L455.35,349.81 L455.65,349.60 L455.94,349.39 L456.23,349.18 L456.52,348.97 L456.82,348.76 L457.11,348.55 L457.40,348.33 L457.69,348.12 L457.98,347.91 L458.27,347.70 L458.56,347.49 L458.85,347.27 L459.14,347.06 L459.43,346.85 L459.72,346.63 L460.01,346.42 L460.18,346.29 M474.76,334.92 L475.03,334.69 L475.31,334.46 L475.59,334.23 L475.87,334.01 L476.15,333.78 L476.42,333.55 L476.70,333.32 L476.98,333.08 L477.25,332.85 L477.53,332.62 L477.81,332.39 L478.08,332.16 L478.36,331.93 L478.63,331.70 L478.91,331.46 L479.18,331.23 L479.46,331.00 L479.73,330.77 L480.01,330.53 L480.28,330.30 L480.55,330.07 L480.83,329.83 L481.10,329.60 L481.37,329.36 L481.65,329.13 L481.92,328.89 L482.19,328.66 L482.46,328.42 L482.74,328.19 L483.01,327.95 L483.28,327.71 L483.55,327.48 L483.82,327.24 L484.09,327.00 L484.37,326.77 L484.64,326.53 L484.79,326.39 M498.39,313.86 L498.65,313.61 L498.90,313.36 L499.16,313.11 L499.42,312.86 L499.68,312.60 L499.94,312.35 L500.20,312.10 L500.45,311.85 L500.71,311.60 L500.97,311.35 L501.22,311.09 L501.48,310.84 L501.74,310.59 L501.99,310.33 L502.25,310.08 L502.51,309.83 L502.76,309.57 L503.02,309.32 L503.27,309.06 L503.53,308.81 L503.78,308.56 L504.04,308.30 L504.29,308.04 L504.54,307.79 L504.80,307.53 L505.05,307.28 L505.30,307.02 L505.56,306.77 L505.81,306.51 L506.06,306.25 L506.32,305.99 L506.57,305.74 L506.82,305.48 L507.07,305.22 L507.32,304.96 L507.58,304.71 L507.72,304.56 M520.32,291.02 L520.56,290.75 L520.80,290.48 L521.04,290.21 L521.28,289.94 L521.52,289.67 L521.76,289.40 L522.00,289.13 L522.24,288.86 L522.47,288.59 L522.71,288.32 L522.95,288.05 L523.19,287.78 L523.42,287.51 L523.66,287.24 L523.90,286.97 L524.13,286.69 L524.37,286.42 L524.60,286.15 L524.84,285.88 L525.08,285.60 L525.31,285.33 L525.55,285.06 L525.78,284.79 L526.02,284.51 L526.25,284.24 L526.48,283.96 L526.72,283.69 L526.95,283.42 L527.19,283.14 L527.42,282.87 L527.65,282.59 L527.88,282.32 L528.12,282.04 L528.35,281.77 L528.58,281.49 L528.81,281.22 L528.95,281.06 M540.55,266.67 L540.77,266.38 L540.99,266.10 L541.21,265.81 L541.43,265.53 L541.65,265.24 L541.87,264.96 L542.09,264.67 L542.31,264.39 L542.52,264.10 L542.74,263.82 L542.96,263.53 L543.18,263.24 L543.40,262.96 L543.61,262.67 L543.83,262.38 L544.05,262.10 L544.26,261.81 L544.48,261.52 L544.70,261.23 L544.91,260.95 L545.13,260.66 L545.34,260.37 L545.56,260.08 L545.77,259.79 L545.99,259.51 L546.20,259.22 L546.42,258.93 L546.63,258.64 L546.84,258.35 L547.06,258.06 L547.27,257.77 L547.49,257.48 L547.70,257.19 L547.91,256.90 L548.12,256.61 L548.34,256.32 L548.48,256.13 M559.17,241.05 L559.37,240.76 L559.58,240.46 L559.78,240.17 L559.98,239.87 L560.19,239.57 L560.39,239.28 L560.59,238.98 L560.80,238.68 L561.00,238.39 L561.20,238.09 L561.41,237.80 L561.61,237.50 L561.81,237.20 L562.02,236.91 L562.22,236.61 L562.42,236.31 L562.62,236.01 L562.83,235.72 L563.03,235.42 L563.23,235.12 L563.43,234.83 L563.64,234.53 L563.84,234.23 L564.04,233.93 L564.24,233.64 L564.44,233.34 L564.64,233.04 L564.85,232.74 L565.05,232.45 L565.25,232.15 L565.45,231.85 L565.65,231.55 L565.85,231.25 L566.05,230.96 L566.26,230.66 L566.46,230.36 L566.59,230.16 M576.88,214.80 L577.08,214.50 L577.28,214.20 L577.48,213.90 L577.68,213.60 L577.88,213.30 L578.08,213.01 L578.28,212.71 L578.48,212.41 L578.68,212.11 L578.88,211.81 L579.08,211.51 L579.29,211.21 L579.49,210.91 L579.69,210.61 L579.89,210.32 L580.09,210.02 L580.29,209.72 L580.49,209.42 L580.69,209.12 L580.89,208.82 L581.09,208.52 L581.29,208.23 L581.49,207.93 L581.69,207.63 L581.89,207.33 L582.10,207.03 L582.30,206.73 L582.50,206.43 L582.70,206.14 L582.90,205.84 L583.10,205.54 L583.30,205.24 L583.51,204.94 L583.71,204.65 L583.91,204.35 L584.11,204.05 L584.23,203.88 M594.75,188.64 L594.96,188.35 L595.17,188.06 L595.37,187.76 L595.58,187.47 L595.79,187.18 L596.00,186.88 L596.21,186.59 L596.42,186.30 L596.63,186.00 L596.84,185.71 L597.05,185.42 L597.26,185.12 L597.47,184.83 L597.68,184.54 L597.89,184.25 L598.10,183.95 L598.31,183.66 L598.52,183.37 L598.73,183.08 L598.95,182.79 L599.16,182.49 L599.37,182.20 L599.58,181.91 L599.79,181.62 L600.01,181.33 L600.22,181.04 L600.43,180.75 L600.64,180.45 L600.86,180.16 L601.07,179.87 L601.28,179.58 L601.50,179.29 L601.71,179.00 L601.93,178.71 L602.14,178.42 L602.36,178.13 L602.46,177.99 M613.78,163.37 L614.01,163.09 L614.24,162.81 L614.47,162.53 L614.70,162.25 L614.93,161.97 L615.16,161.69 L615.39,161.41 L615.62,161.13 L615.85,160.85 L616.08,160.57 L616.31,160.29 L616.54,160.01 L616.77,159.74 L617.01,159.46 L617.24,159.18 L617.47,158.90 L617.70,158.62 L617.94,158.35 L618.17,158.07 L618.41,157.79 L618.64,157.52 L618.88,157.24 L619.11,156.96 L619.35,156.69 L619.58,156.41 L619.82,156.13 L620.06,155.86 L620.29,155.58 L620.53,155.31 L620.77,155.03 L621.01,154.76 L621.24,154.48 L621.48,154.21 L621.72,153.94 L621.96,153.66 L622.20,153.39 L622.28,153.30 M634.91,139.79 L635.17,139.53 L635.43,139.27 L635.69,139.01 L635.95,138.75 L636.22,138.49 L636.48,138.23 L636.74,137.97 L637.00,137.72 L637.27,137.46 L637.53,137.20 L637.80,136.94 L638.06,136.69 L638.33,136.43 L638.59,136.17 L638.86,135.92 L639.13,135.66 L639.39,135.41 L639.66,135.15 L639.93,134.90 L640.20,134.64 L640.47,134.39 L640.74,134.13 L641.01,133.88 L641.28,133.63 L641.55,133.37 L641.82,133.12 L642.09,132.87 L642.37,132.62 L642.64,132.36 L642.91,132.11 L643.19,131.86 L643.46,131.61 L643.74,131.36 L644.01,131.11 L644.29,130.86 L644.45,130.72 M658.72,118.95 L659.02,118.73 L659.32,118.50 L659.62,118.28 L659.92,118.07 L660.22,117.85 L660.52,117.63 L660.82,117.41 L661.12,117.20 L661.42,116.98 L661.72,116.77 L662.02,116.55 L662.32,116.34 L662.62,116.13 L662.93,115.91 L663.23,115.70 L663.53,115.49 L663.84,115.28 L664.14,115.07 L664.44,114.87 L664.75,114.66 L665.05,114.45 L665.36,114.25 L665.67,114.04 L665.97,113.84 L666.28,113.64 L666.59,113.44 L666.89,113.23 L667.20,113.03 L667.51,112.84 L667.82,112.64 L668.13,112.44 L668.44,112.24 L668.75,112.05 L669.06,111.85 L669.37,111.66 L669.57,111.53 M685.98,102.97 L686.31,102.83 L686.64,102.70 L686.97,102.56 L687.30,102.43 L687.63,102.29 L687.96,102.16 L688.28,102.03 L688.62,101.90 L688.95,101.78 L689.28,101.65 L689.61,101.53 L689.94,101.40 L690.27,101.28 L690.60,101.16 L690.93,101.04 L691.27,100.92 L691.60,100.81 L691.93,100.69 L692.27,100.58 L692.60,100.46 L692.93,100.35 L693.27,100.24 L693.60,100.13 L693.94,100.03 L694.27,99.92 L694.61,99.81 L694.94,99.71 L695.28,99.61 L695.62,99.51 L695.95,99.41 L696.29,99.31 L696.63,99.22 L696.96,99.12 L697.30,99.03 L697.64,98.94 L697.98,98.85 L698.32,98.76 L698.43,98.73 M716.72,96.26 L717.07,96.26 L717.42,96.26 L717.77,96.27 L718.12,96.27 L718.48,96.28 L718.83,96.28 L719.18,96.29 L719.53,96.30 L719.89,96.32 L720.24,96.33 L720.59,96.35 L720.95,96.37 L721.30,96.39 L721.65,96.41 L722.01,96.43 L722.36,96.46 L722.72,96.49 L723.07,96.52 L723.42,96.55 L723.78,96.58 L724.13,96.62 L724.49,96.65 L724.84,96.69 L725.20,96.73 L725.55,96.78 L725.91,96.82 L726.26,96.87 L726.62,96.92 L726.97,96.97 L727.33,97.02 L727.68,97.07 L728.04,97.13 L728.39,97.19 L728.74,97.25 L729.10,97.31 L729.45,97.37 L729.81,97.44 M747.29,103.31 L747.61,103.47 L747.93,103.64 L748.25,103.81 L748.57,103.98 L748.89,104.15 L749.21,104.32 L749.52,104.50 L749.84,104.68 L750.15,104.86 L750.46,105.04 L750.77,105.22 L751.08,105.41 L751.39,105.60 L751.70,105.79 L752.01,105.98 L752.31,106.17 L752.61,106.37 L752.92,106.57 L753.22,106.77 L753.52,106.97 L753.82,107.17 L754.12,107.38 L754.41,107.58 L754.71,107.79 L755.00,108.00 L755.29,108.21 L755.59,108.43 L755.88,108.64 L756.17,108.86 L756.46,109.08 L756.74,109.30 L757.03,109.52 L757.31,109.75 L757.60,109.97 L757.88,110.20 L758.16,110.43 L758.28,110.52 M771.18,123.72 L771.41,124.01 L771.64,124.29 L771.87,124.58 L772.10,124.86 L772.33,125.15 L772.55,125.44 L772.78,125.72 L773.01,126.01 L773.23,126.30 L773.46,126.59 L773.68,126.88 L773.90,127.17 L774.12,127.46 L774.35,127.75 L774.57,128.04 L774.79,128.33 L775.01,128.62 L775.22,128.92 L775.44,129.21 L775.66,129.50 L775.88,129.79 L776.09,130.09 L776.31,130.38 L776.52,130.68 L776.73,130.97 L776.95,131.26 L777.16,131.56 L777.37,131.85 L777.58,132.15 L777.79,132.45 L778.00,132.74 L778.21,133.04 L778.41,133.34 L778.62,133.63 L778.83,133.93 L779.03,134.23 L779.07,134.28 M788.72,150.02 L788.90,150.33 L789.07,150.64 L789.24,150.96 L789.40,151.27 L789.57,151.59 L789.74,151.90 L789.91,152.22 L790.07,152.53 L790.24,152.85 L790.41,153.17 L790.57,153.48 L790.73,153.80 L790.90,154.12 L791.06,154.43 L791.22,154.75 L791.39,155.07 L791.55,155.39 L791.71,155.71 L791.87,156.03 L792.03,156.34 L792.19,156.66 L792.34,156.98 L792.50,157.30 L792.66,157.62 L792.82,157.94 L792.97,158.26 L793.13,158.58 L793.28,158.91 L793.44,159.23 L793.59,159.55 L793.74,159.87 L793.90,160.19 L794.05,160.51 L794.20,160.84 L794.35,161.16 L794.50,161.48 L794.64,161.78 M801.68,178.88 L801.80,179.22 L801.92,179.56 L802.05,179.89 L802.17,180.23 L802.29,180.56 L802.41,180.90 L802.53,181.24 L802.64,181.57 L802.76,181.91 L802.88,182.25 L803.00,182.58 L803.12,182.92 L803.23,183.26 L803.35,183.60 L803.46,183.94 L803.58,184.27 L803.69,184.61 L803.81,184.95 L803.92,185.29 L804.04,185.63 L804.15,185.97 L804.26,186.31 L804.37,186.65 L804.49,186.99 L804.60,187.33 L804.71,187.67 L804.82,188.01 L804.93,188.35 L805.04,188.69 L805.15,189.03 L805.26,189.37 L805.36,189.71 L805.47,190.05 L805.58,190.40 L805.69,190.74 L805.79,191.08 L805.88,191.37 M810.82,209.21 L810.90,209.56 L810.99,209.91 L811.07,210.26 L811.16,210.61 L811.24,210.96 L811.33,211.31 L811.41,211.66 L811.50,212.01 L811.58,212.37 L811.66,212.72 L811.75,213.07 L811.83,213.42 L811.91,213.77 L811.99,214.12 L812.08,214.48 L812.16,214.83 L812.24,215.18 L812.32,215.53 L812.40,215.89 L812.48,216.24 L812.56,216.59 L812.64,216.95 L812.72,217.30 L812.80,217.65 L812.87,218.00 L812.95,218.36 L813.03,218.71 L813.11,219.07 L813.19,219.42 L813.26,219.77 L813.34,220.13 L813.42,220.48 L813.49,220.84 L813.57,221.19 L813.64,221.54 L813.72,221.90 L813.75,222.05 M817.24,240.19 L817.30,240.55 L817.36,240.91 L817.42,241.27 L817.49,241.63 L817.55,241.99 L817.61,242.35 L817.67,242.70 L817.73,243.06 L817.79,243.42 L817.85,243.78 L817.92,244.14 L817.98,244.50 L818.04,244.86 L818.10,245.22 L818.16,245.58 L818.22,245.94 L818.28,246.30 L818.34,246.66 L818.39,247.02 L818.45,247.38 L818.51,247.74 L818.57,248.10 L818.63,248.46 L818.69,248.82 L818.75,249.18 L818.80,249.54 L818.86,249.90 L818.92,250.26 L818.98,250.62 L819.04,250.98 L819.09,251.34 L819.15,251.70 L819.21,252.06 L819.26,252.42 L819.32,252.79 L819.38,253.15 L819.38,253.18 M822.09,271.47 L822.14,271.83 L822.19,272.20 L822.25,272.56 L822.30,272.92 L822.35,273.28 L822.40,273.64 L822.45,274.00 L822.50,274.36 L822.55,274.72 L822.60,275.09 L822.65,275.45 L822.70,275.81 L822.75,276.17 L822.80,276.53 L822.85,276.89 L822.90,277.25 L822.95,277.61 L823.00,277.97 L823.05,278.33 L823.10,278.70 L823.15,279.06 L823.20,279.42 L823.25,279.78 L823.30,280.14 L823.35,280.50 L823.40,280.86 L823.45,281.22 L823.50,281.58 L823.55,281.94 L823.60,282.30 L823.65,282.67 L823.70,283.03 L823.75,283.39 L823.80,283.75 L823.85,284.11 L823.90,284.47 L823.91,284.53 M826.38,302.87 L826.42,303.23 L826.47,303.59 L826.52,303.95 L826.56,304.31 L826.61,304.67 L826.66,305.03 L826.71,305.39 L826.75,305.75 L826.80,306.11 L826.85,306.47 L826.89,306.82 L826.94,307.18 L826.99,307.54 L827.04,307.90 L827.08,308.26 L827.13,308.62 L827.18,308.98 L827.22,309.34 L827.27,309.70 L827.32,310.06 L827.36,310.42 L827.41,310.78 L827.46,311.14 L827.50,311.50 L827.55,311.86 L827.60,312.22 L827.64,312.58 L827.69,312.94 L827.73,313.29 L827.78,313.65 L827.83,314.01 L827.87,314.37 L827.92,314.73 L827.97,315.09 L828.01,315.45 L828.06,315.81 L828.07,315.93 M830.38,334.26 L830.42,334.62 L830.47,334.98 L830.51,335.34 L830.56,335.69 L830.60,336.05 L830.65,336.41 L830.69,336.77 L830.73,337.13 L830.78,337.49 L830.82,337.84 L830.87,338.20 L830.91,338.56 L830.95,338.92 L831.00,339.28 L831.04,339.64 L831.08,339.99 L831.13,340.35 L831.17,340.71 L831.22,341.07 L831.26,341.43 L831.30,341.79 L831.35,342.14 L831.39,342.50 L831.43,342.86 L831.48,343.22 L831.52,343.58 L831.56,343.94 L831.61,344.29 L831.65,344.65 L831.69,345.01 L831.74,345.37 L831.78,345.73 L831.82,346.08 L831.87,346.44 L831.91,346.80 L831.95,347.16 L831.98,347.34 M834.15,365.71 L834.19,366.07 L834.23,366.42 L834.27,366.78 L834.32,367.14 L834.36,367.50 L834.40,367.86 L834.44,368.21 L834.48,368.57 L834.52,368.93 L834.56,369.29 L834.60,369.64 L834.65,370.00 L834.69,370.36 L834.73,370.72 L834.77,371.07 L834.81,371.43 L834.85,371.79 L834.89,372.15 L834.93,372.50 L834.98,372.86 L835.02,373.22 L835.06,373.58 L835.10,373.93 L835.14,374.29 L835.18,374.65 L835.22,375.01 L835.26,375.36 L835.30,375.72 L835.34,376.08 L835.38,376.44 L835.43,376.79 L835.47,377.15 L835.51,377.51 L835.55,377.87 L835.59,378.22 L835.63,378.58 L835.65,378.79 M837.71,397.19 L837.75,397.55 L837.79,397.91 L837.83,398.26 L837.87,398.62 L837.91,398.98 L837.95,399.33 L837.99,399.69 L838.02,400.05 L838.06,400.41 L838.10,400.76 L838.14,401.12 L838.18,401.48 L838.22,401.83 L838.26,402.19 L838.30,402.55 L838.34,402.91 L838.38,403.26 L838.42,403.62 L838.45,403.98 L838.49,404.33 L838.53,404.69 L838.57,405.05 L838.61,405.41 L838.65,405.76 L838.69,406.12 L838.73,406.48 L838.76,406.84 L838.80,407.19 L838.84,407.55 L838.88,407.91 L838.92,408.26 L838.96,408.62 L839.00,408.98 L839.04,409.34 L839.07,409.69 L839.11,410.05 L839.14,410.29 M841.10,428.68 L841.14,429.04 L841.17,429.39 L841.21,429.75 L841.25,430.11 L841.29,430.47 L841.32,430.82 L841.36,431.18 L841.40,431.54 L841.43,431.89 L841.47,432.25 L841.51,432.61 L841.55,432.97 L841.58,433.32 L841.62,433.68 L841.66,434.04 L841.70,434.39 L841.73,434.75 L841.77,435.11 L841.81,435.47 L841.85,435.82 L841.88,436.18 L841.92,436.54 L841.96,436.90 L841.99,437.25 L842.03,437.61 L842.07,437.97 L842.11,438.32 L842.14,438.68 L842.18,439.04 L842.22,439.40 L842.25,439.75 L842.29,440.11 L842.33,440.47 L842.36,440.82 L842.40,441.18 L842.44,441.54 L842.46,441.78 M844.34,460.15 L844.38,460.51 L844.42,460.87 L844.45,461.22 L844.49,461.58 L844.52,461.94 L844.56,462.30 L844.60,462.65 L844.63,463.01 L844.67,463.37 L844.70,463.73 L844.74,464.08 L844.78,464.44 L844.81,464.80 L844.85,465.16 L844.89,465.52 L844.92,465.87 L844.96,466.23 L844.99,466.59 L845.03,466.95 L845.07,467.30 L845.10,467.66 L845.14,468.02 L845.17,468.38 L845.21,468.73 L845.25,469.09 L845.28,469.45 L845.32,469.81 L845.35,470.16 L845.39,470.52 L845.42,470.88 L845.46,471.24 L845.50,471.60 L845.53,471.95 L845.57,472.31 L845.60,472.67 L845.64,473.03 L845.66,473.26 M847.49,491.67 L847.53,492.03 L847.56,492.39 L847.60,492.75 L847.63,493.10 L847.67,493.46 L847.70,493.82 L847.74,494.18 L847.77,494.54 L847.81,494.90 L847.84,495.25 L847.88,495.61 L847.92,495.97 L847.95,496.33 L847.99,496.69 L848.02,497.05 L848.06,497.40 L848.09,497.76 L848.13,498.12 L848.16,498.48 L848.20,498.84 L848.23,499.20 L848.27,499.55 L848.30,499.91 L848.34,500.27 L848.37,500.63 L848.41,500.99 L848.44,501.35 L848.48,501.71 L848.51,502.06 L848.55,502.42 L848.58,502.78 L848.62,503.14 L848.65,503.50 L848.69,503.86 L848.72,504.22 L848.76,504.57 L848.78,504.78 M850.57,523.18 L850.61,523.54 L850.64,523.90 L850.68,524.26 L850.71,524.62 L850.75,524.98 L850.78,525.34 L850.82,525.70 L850.85,526.06 L850.89,526.42 L850.92,526.78 L850.96,527.14 L850.99,527.50 L851.03,527.86 L851.06,528.21 L851.10,528.57 L851.13,528.93 L851.17,529.29 L851.20,529.65 L851.24,530.01 L851.27,530.37 L851.31,530.73 L851.34,531.09 L851.38,531.45 L851.41,531.81 L851.45,532.17 L851.48,532.53 L851.52,532.89 L851.55,533.25 L851.59,533.61 L851.62,533.97 L851.66,534.33 L851.69,534.69 L851.72,535.05 L851.76,535.41 L851.79,535.77 L851.83,536.13 L851.85,536.31 M853.63,554.72 L853.66,555.08 L853.70,555.44 L853.73,555.80 L853.77,556.16 L853.80,556.52 L853.84,556.89 L853.87,557.25 L853.91,557.61 L853.94,557.97 L853.98,558.33 L854.01,558.69 L854.05,559.05 L854.08,559.41 L854.12,559.77 L854.15,560.14 L854.19,560.50 L854.22,560.86 L854.26,561.22 L854.29,561.58 L854.33,561.94 L854.36,562.30 L854.40,562.66 L854.43,563.03 L854.47,563.39 L854.50,563.75 L854.54,564.11 L854.57,564.47 L854.61,564.83 L854.64,565.19 L854.68,565.56 L854.71,565.92 L854.75,566.28 L854.78,566.64 L854.82,567.00 L854.85,567.36 L854.89,567.72 L854.90,567.81 M856.69,586.23 L856.73,586.59 L856.76,586.95 L856.80,587.31 L856.83,587.68 L856.87,588.04 L856.90,588.40 L856.94,588.77 L856.97,589.13 L857.01,589.49 L857.04,589.85 L857.08,590.22 L857.12,590.58 L857.15,590.94 L857.19,591.31 L857.22,591.67 L857.26,592.03 L857.29,592.40 L857.33,592.76 L857.36,593.12 L857.40,593.49 L857.44,593.85 L857.47,594.21 L857.51,594.58 L857.54,594.94 L857.58,595.30 L857.61,595.67 L857.65,596.03 L857.69,596.39 L857.72,596.76 L857.76,597.12 L857.79,597.48 L857.83,597.85 L857.86,598.21 L857.90,598.57 L857.94,598.94 L857.97,599.30 L857.97,599.33" fill="none" stroke="#3f3f3f" stroke-width="3.2" stroke-linecap="round" stroke-linejoin="round"/>
<path d="M193.31,282.66 L193.60,282.59 L193.89,282.52 L194.18,282.45 L194.47,282.39 L194.76,282.32 L195.05,282.25 L195.34,282.18 L195.63,282.12 L195.92,282.05 L196.21,281.99 L196.50,281.92 L196.79,281.86 L197.08,281.79 L197.37,281.73 L197.66,281.66 L197.95,281.60 L198.24,281.54 L198.53,281.47 L198.82,281.41 L199.11,281.35 L199.40,281.29 L199.69,281.23 L199.98,281.16 L200.27,281.10 L200.56,281.04 L200.85,280.98 L201.14,280.92 L201.43,280.86 L201.72,280.80 L202.01,280.74 L202.30,280.69 L202.59,280.63 L202.88,280.57 L203.17,280.51 L203.46,280.45 L203.75,280.40 L203.99,280.35 M222.29,277.40 L222.58,277.37 L222.87,277.33 L223.16,277.29 L223.45,277.26 L223.74,277.22 L224.03,277.18 L224.32,277.15 L224.61,277.12 L224.90,277.08 L225.19,277.05 L225.49,277.01 L225.78,276.98 L226.07,276.95 L226.36,276.91 L226.65,276.88 L226.94,276.85 L227.23,276.81 L227.52,276.78 L227.81,276.75 L228.10,276.72 L228.39,276.69 L228.68,276.66 L228.97,276.63 L229.26,276.60 L229.55,276.57 L229.84,276.54 L230.13,276.51 L230.42,276.48 L230.71,276.45 L231.00,276.42 L231.29,276.39 L231.58,276.37 L231.87,276.34 L232.16,276.31 L232.45,276.29 L232.74,276.26 L233.03,276.23 L233.32,276.21 L233.61,276.18 L233.90,276.15 L234.19,276.13 L234.48,276.10 L234.77,276.08 L235.06,276.06 L235.35,276.03 L235.64,276.01 L235.93,275.98 L236.22,275.96 L236.51,275.94 L236.80,275.91 L237.09,275.89 L237.38,275.87 L237.67,275.85 L237.96,275.83 L238.25,275.81 L238.54,275.78 L238.83,275.76 L239.12,275.74 L239.41,275.72 L239.70,275.70 L239.99,275.68 L240.28,275.66 L240.57,275.64 L240.86,275.63 L241.15,275.61 L241.44,275.59 L241.73,275.57 L242.02,275.55 L242.31,275.54 L242.60,275.52 L242.89,275.50 L243.18,275.48 L243.47,275.47 L243.76,275.45 L244.05,275.44 L244.34,275.42 L244.63,275.41 L244.92,275.39 L245.21,275.38 L245.50,275.36 L245.79,275.35 L246.08,275.33 L246.37,275.32 L246.66,275.31 L246.95,275.29 L247.24,275.28 L247.53,275.27 L247.82,275.25 L248.11,275.24 M267.93,275.02 L268.22,275.03 L268.51,275.03 L268.80,275.04 L269.09,275.05 L269.38,275.05 L269.67,275.06 L269.96,275.07 L270.25,275.07 L270.54,275.08 L270.83,275.09 L271.12,275.10 L271.41,275.10 L271.70,275.11 L271.99,275.12 L272.28,275.13 L272.56,275.14 L272.85,275.15 L273.14,275.16 L273.43,275.17 L273.72,275.18 L274.01,275.19 L274.30,275.20 L274.59,275.21 L274.88,275.22 L275.17,275.23 L275.46,275.24 L275.75,275.25 L276.04,275.26 L276.33,275.28 L276.62,275.29 L276.91,275.30 L277.19,275.31 L277.48,275.33 L277.77,275.34 L278.06,275.35 L278.35,275.37 L278.64,275.38 L278.93,275.39 L279.22,275.41 L279.51,275.42 L279.80,275.44 L280.09,275.45 L280.38,275.47 L280.67,275.48 L280.96,275.50 L281.10,275.51 M299.32,276.93 L299.61,276.95 L299.90,276.98 L300.19,277.01 L300.48,277.04 L300.77,277.07 L301.06,277.10 L301.34,277.13 L301.63,277.16 L301.92,277.19 L302.21,277.23 L302.50,277.26 L302.79,277.29 L303.07,277.32 L303.36,277.35 L303.65,277.38 L303.94,277.41 L304.23,277.45 L304.52,277.48 L304.81,277.51 L305.09,277.54 L305.38,277.58 L305.67,277.61 L305.96,277.64 L306.25,277.68 L306.54,277.71 L306.82,277.75 L307.11,277.78 L307.40,277.81 L307.69,277.85 L307.98,277.88 L308.26,277.92 L308.55,277.95 L308.84,277.99 L309.13,278.02 L309.42,278.06 L309.71,278.10 L309.99,278.13 L310.28,278.17 L310.57,278.20 L310.86,278.24 L311.15,278.28 L311.43,278.31 L311.72,278.35 L312.01,278.39 L312.30,278.43 L312.42,278.44 M330.49,281.15 L330.77,281.19 L331.06,281.24 L331.35,281.29 L331.63,281.34 L331.92,281.39 L332.21,281.44 L332.50,281.49 L332.78,281.54 L333.07,281.59 L333.36,281.64 L333.64,281.69 L333.93,281.74 L334.22,281.79 L334.50,281.84 L334.79,281.89 L335.08,281.94 L335.36,281.99 L335.65,282.04 L335.94,282.09 L336.22,282.14 L336.51,282.19 L336.80,282.24 L337.09,282.30 L337.37,282.35 L337.66,282.40 L337.95,282.45 L338.23,282.50 L338.52,282.56 L338.80,282.61 L339.09,282.66 L339.38,282.72 L339.66,282.77 L339.95,282.82 L340.24,282.87 L340.52,282.93 L340.81,282.98 L341.10,283.04 L341.38,283.09 L341.67,283.14 L341.96,283.20 L342.24,283.25 L342.53,283.31 L342.82,283.36 L343.10,283.42 L343.39,283.47 L343.46,283.48 M361.34,287.20 L361.63,287.26 L361.91,287.33 L362.20,287.39 L362.48,287.46 L362.77,287.52 L363.05,287.59 L363.34,287.65 L363.62,287.71 L363.91,287.78 L364.19,287.84 L364.48,287.91 L364.76,287.98 L365.05,288.04 L365.33,288.11 L365.62,288.17 L365.90,288.24 L366.19,288.30 L366.47,288.37 L366.76,288.44 L367.04,288.50 L367.33,288.57 L367.61,288.64 L367.90,288.70 L368.18,288.77 L368.47,288.84 L368.75,288.91 L369.04,288.97 L369.32,289.04 L369.61,289.11 L369.89,289.18 L370.17,289.25 L370.46,289.31 L370.74,289.38 L371.03,289.45 L371.31,289.52 L371.60,289.59 L371.88,289.66 L372.17,289.73 L372.45,289.79 L372.74,289.86 L373.02,289.93 L373.30,290.00 L373.59,290.07 L373.87,290.14 L374.16,290.21 L374.18,290.22 M391.84,294.86 L392.12,294.94 L392.41,295.02 L392.69,295.10 L392.97,295.18 L393.25,295.25 L393.54,295.33 L393.82,295.41 L394.10,295.49 L394.39,295.57 L394.67,295.65 L394.95,295.73 L395.23,295.82 L395.52,295.90 L395.80,295.98 L396.08,296.06 L396.37,296.14 L396.65,296.22 L396.93,296.30 L397.21,296.38 L397.50,296.46 L397.78,296.55 L398.06,296.63 L398.34,296.71 L398.63,296.79 L398.91,296.87 L399.19,296.96 L399.47,297.04 L399.76,297.12 L400.04,297.21 L400.32,297.29 L400.60,297.37 L400.89,297.46 L401.17,297.54 L401.45,297.62 L401.73,297.71 L402.02,297.79 L402.30,297.87 L402.58,297.96 L402.86,298.04 L403.14,298.13 L403.43,298.21 L403.71,298.30 L403.99,298.38 L404.27,298.47 L404.51,298.54 M421.90,304.13 L422.17,304.22 L422.45,304.32 L422.73,304.41 L423.01,304.51 L423.29,304.61 L423.57,304.70 L423.84,304.80 L424.12,304.90 L424.40,304.99 L424.68,305.09 L424.96,305.19 L425.23,305.28 L425.51,305.38 L425.79,305.48 L426.07,305.58 L426.34,305.67 L426.62,305.77 L426.90,305.87 L427.17,305.97 L427.45,306.07 L427.73,306.17 L428.00,306.27 L428.28,306.37 L428.56,306.47 L428.83,306.56 L429.11,306.66 L429.39,306.76 L429.66,306.86 L429.94,306.97 L430.22,307.07 L430.49,307.17 L430.77,307.27 L431.04,307.37 L431.32,307.47 L431.59,307.57 L431.87,307.67 L432.14,307.78 L432.42,307.88 L432.69,307.98 L432.97,308.08 L433.24,308.18 L433.52,308.29 L433.79,308.39 L434.07,308.49 L434.30,308.58 M451.24,315.45 L451.50,315.57 L451.77,315.68 L452.03,315.80 L452.30,315.92 L452.57,316.04 L452.83,316.15 L453.10,316.27 L453.36,316.39 L453.63,316.51 L453.89,316.63 L454.16,316.74 L454.42,316.86 L454.69,316.98 L454.95,317.10 L455.21,317.22 L455.48,317.34 L455.74,317.46 L456.01,317.58 L456.27,317.70 L456.53,317.82 L456.80,317.94 L457.06,318.07 L457.32,318.19 L457.58,318.31 L457.85,318.43 L458.11,318.55 L458.37,318.67 L458.63,318.80 L458.90,318.92 L459.16,319.04 L459.42,319.17 L459.68,319.29 L459.94,319.41 L460.20,319.54 L460.46,319.66 L460.72,319.79 L460.98,319.91 L461.24,320.03 L461.51,320.16 L461.77,320.29 L462.03,320.41 L462.28,320.54 L462.54,320.66 L462.80,320.79 L463.06,320.91 L463.19,320.98 M479.36,329.49 L479.61,329.63 L479.86,329.77 L480.11,329.91 L480.36,330.05 L480.61,330.20 L480.86,330.34 L481.11,330.48 L481.35,330.62 L481.60,330.76 L481.85,330.91 L482.10,331.05 L482.34,331.19 L482.59,331.34 L482.84,331.48 L483.09,331.62 L483.33,331.77 L483.58,331.91 L483.83,332.06 L484.07,332.20 L484.32,332.34 L484.57,332.49 L484.81,332.63 L485.06,332.78 L485.30,332.93 L485.55,333.07 L485.80,333.22 L486.04,333.36 L486.29,333.51 L486.53,333.66 L486.78,333.80 L487.02,333.95 L487.27,334.10 L487.51,334.24 L487.76,334.39 L488.00,334.54 L488.24,334.69 L488.49,334.84 L488.73,334.98 L488.98,335.13 L489.22,335.28 L489.46,335.43 L489.71,335.58 L489.95,335.73 L490.19,335.88 L490.44,336.03 L490.68,336.18 L490.70,336.19 M505.99,346.19 L506.23,346.36 L506.46,346.52 L506.70,346.68 L506.93,346.85 L507.17,347.01 L507.40,347.17 L507.64,347.34 L507.87,347.50 L508.11,347.66 L508.34,347.83 L508.57,347.99 L508.81,348.16 L509.04,348.32 L509.28,348.49 L509.51,348.65 L509.74,348.82 L509.98,348.98 L510.21,349.15 L510.44,349.31 L510.68,349.48 L510.91,349.65 L511.14,349.81 L511.38,349.98 L511.61,350.14 L511.84,350.31 L512.07,350.48 L512.31,350.65 L512.54,350.81 L512.77,350.98 L513.00,351.15 L513.23,351.32 L513.47,351.48 L513.70,351.65 L513.93,351.82 L514.16,351.99 L514.39,352.16 L514.62,352.33 L514.86,352.50 L515.09,352.67 L515.32,352.84 L515.55,353.00 L515.78,353.17 L516.01,353.34 L516.24,353.52 L516.47,353.69 L516.70,353.86 M531.16,365.03 L531.39,365.21 L531.61,365.39 L531.84,365.57 L532.06,365.76 L532.29,365.94 L532.51,366.12 L532.74,366.30 L532.96,366.48 L533.19,366.67 L533.41,366.85 L533.64,367.03 L533.86,367.22 L534.08,367.40 L534.31,367.58 L534.53,367.77 L534.76,367.95 L534.98,368.13 L535.20,368.32 L535.43,368.50 L535.65,368.69 L535.88,368.87 L536.10,369.05 L536.32,369.24 L536.55,369.42 L536.77,369.61 L536.99,369.79 L537.22,369.98 L537.44,370.16 L537.66,370.35 L537.89,370.54 L538.11,370.72 L538.33,370.91 L538.55,371.09 L538.78,371.28 L539.00,371.47 L539.22,371.65 L539.45,371.84 L539.67,372.03 L539.89,372.21 L540.11,372.40 L540.33,372.59 L540.56,372.78 L540.78,372.96 L541.00,373.15 L541.22,373.34 L541.32,373.42 M555.09,385.45 L555.31,385.65 L555.53,385.84 L555.75,386.04 L555.96,386.24 L556.18,386.44 L556.40,386.63 L556.62,386.83 L556.84,387.03 L557.06,387.23 L557.28,387.43 L557.49,387.62 L557.71,387.82 L557.93,388.02 L558.15,388.22 L558.37,388.42 L558.59,388.62 L558.80,388.82 L559.02,389.01 L559.24,389.21 L559.46,389.41 L559.68,389.61 L559.90,389.81 L560.11,390.01 L560.33,390.21 L560.55,390.41 L560.77,390.61 L560.99,390.81 L561.20,391.01 L561.42,391.21 L561.64,391.41 L561.86,391.61 L562.07,391.81 L562.29,392.02 L562.51,392.22 L562.73,392.42 L562.95,392.62 L563.16,392.82 L563.38,393.02 L563.60,393.22 L563.82,393.42 L564.03,393.63 L564.25,393.83 L564.47,394.03 L564.69,394.23 L564.81,394.35 M578.12,406.84 L578.34,407.05 L578.55,407.25 L578.77,407.46 L578.99,407.66 L579.21,407.87 L579.42,408.07 L579.64,408.28 L579.86,408.48 L580.08,408.69 L580.29,408.89 L580.51,409.10 L580.73,409.30 L580.95,409.51 L581.16,409.71 L581.38,409.92 L581.60,410.13 L581.82,410.33 L582.03,410.54 L582.25,410.74 L582.47,410.94 L582.69,411.15 L582.91,411.35 L583.12,411.56 L583.34,411.76 L583.56,411.97 L583.78,412.17 L583.99,412.38 L584.21,412.58 L584.43,412.79 L584.65,412.99 L584.87,413.20 L585.09,413.40 L585.30,413.61 L585.52,413.81 L585.74,414.02 L585.96,414.22 L586.18,414.42 L586.39,414.63 L586.61,414.83 L586.83,415.04 L587.05,415.24 L587.27,415.45 L587.49,415.65 L587.71,415.85 L587.72,415.87 M601.21,428.22 L601.43,428.42 L601.66,428.61 L601.88,428.81 L602.10,429.01 L602.32,429.21 L602.55,429.40 L602.77,429.60 L602.99,429.80 L603.21,430.00 L603.44,430.19 L603.66,430.39 L603.88,430.59 L604.11,430.78 L604.33,430.98 L604.55,431.17 L604.78,431.37 L605.00,431.57 L605.22,431.76 L605.45,431.96 L605.67,432.15 L605.89,432.35 L606.12,432.54 L606.34,432.74 L606.57,432.93 L606.79,433.13 L607.02,433.32 L607.24,433.52 L607.46,433.71 L607.69,433.90 L607.91,434.10 L608.14,434.29 L608.36,434.48 L608.59,434.68 L608.81,434.87 L609.04,435.06 L609.26,435.25 L609.49,435.45 L609.71,435.64 L609.94,435.83 L610.17,436.02 L610.39,436.21 L610.62,436.40 L610.84,436.60 L611.07,436.79 L611.14,436.85 M625.42,448.27 L625.65,448.45 L625.89,448.62 L626.12,448.80 L626.36,448.97 L626.59,449.15 L626.82,449.32 L627.06,449.50 L627.29,449.67 L627.53,449.84 L627.76,450.02 L628.00,450.19 L628.23,450.36 L628.47,450.54 L628.70,450.71 L628.94,450.88 L629.18,451.05 L629.41,451.22 L629.65,451.39 L629.88,451.56 L630.12,451.73 L630.36,451.90 L630.59,452.07 L630.83,452.24 L631.07,452.41 L631.30,452.58 L631.54,452.75 L631.78,452.91 L632.02,453.08 L632.25,453.25 L632.49,453.41 L632.73,453.58 L632.97,453.75 L633.21,453.91 L633.45,454.08 L633.68,454.24 L633.92,454.41 L634.16,454.57 L634.40,454.74 L634.64,454.90 L634.88,455.07 L635.12,455.23 L635.36,455.39 L635.60,455.55 L635.84,455.72 L636.08,455.88 L636.14,455.92 M651.76,465.43 L652.01,465.56 L652.26,465.70 L652.51,465.83 L652.77,465.97 L653.02,466.10 L653.27,466.24 L653.52,466.37 L653.78,466.51 L654.03,466.64 L654.29,466.77 L654.54,466.91 L654.79,467.04 L655.05,467.17 L655.30,467.30 L655.56,467.43 L655.81,467.56 L656.07,467.69 L656.32,467.82 L656.58,467.95 L656.84,468.08 L657.09,468.20 L657.35,468.33 L657.60,468.46 L657.86,468.58 L658.12,468.71 L658.38,468.84 L658.63,468.96 L658.89,469.08 L659.15,469.21 L659.41,469.33 L659.66,469.46 L659.92,469.58 L660.18,469.70 L660.44,469.82 L660.70,469.94 L660.96,470.06 L661.22,470.18 L661.48,470.30 L661.74,470.42 L662.00,470.54 L662.26,470.66 L662.52,470.78 L662.78,470.90 L663.04,471.01 L663.30,471.13 L663.57,471.24 M680.71,477.54 L680.99,477.62 L681.27,477.70 L681.55,477.78 L681.82,477.86 L682.10,477.94 L682.38,478.02 L682.66,478.09 L682.94,478.17 L683.22,478.25 L683.50,478.32 L683.78,478.40 L684.06,478.47 L684.34,478.54 L684.62,478.62 L684.90,478.69 L685.18,478.76 L685.47,478.83 L685.75,478.91 L686.03,478.98 L686.31,479.04 L686.60,479.11 L686.88,479.18 L687.16,479.25 L687.45,479.32 L687.73,479.38 L688.01,479.45 L688.30,479.52 L688.58,479.58 L688.87,479.64 L689.15,479.71 L689.44,479.77 L689.72,479.83 L690.01,479.89 L690.29,479.95 L690.58,480.01 L690.87,480.07 L691.15,480.13 L691.44,480.19 L691.73,480.25 L692.01,480.31 L692.30,480.36 L692.59,480.42 L692.88,480.47 L693.17,480.53 L693.45,480.58 L693.53,480.60 M711.65,482.59 L711.95,482.60 L712.24,482.61 L712.54,482.62 L712.83,482.62 L713.12,482.63 L713.42,482.64 L713.71,482.64 L714.00,482.64 L714.30,482.65 L714.59,482.65 L714.88,482.65 L715.18,482.65 L715.47,482.65 L715.76,482.65 L716.06,482.65 L716.35,482.65 L716.64,482.65 L716.94,482.64 L717.23,482.64 L717.52,482.63 L717.81,482.63 L718.11,482.62 L718.40,482.61 L718.69,482.61 L718.98,482.60 L719.28,482.59 L719.57,482.58 L719.86,482.56 L720.15,482.55 L720.44,482.54 L720.74,482.53 L721.03,482.51 L721.32,482.50 L721.61,482.48 L721.90,482.46 L722.19,482.44 L722.48,482.43 L722.78,482.41 L723.07,482.39 L723.36,482.37 L723.65,482.34 L723.94,482.32 L724.23,482.30 L724.52,482.27 L724.81,482.25 L724.83,482.25 M742.77,478.89 L743.04,478.81 L743.32,478.73 L743.59,478.65 L743.86,478.56 L744.13,478.48 L744.40,478.39 L744.68,478.30 L744.95,478.21 L745.22,478.13 L745.49,478.04 L745.76,477.94 L746.03,477.85 L746.30,477.76 L746.56,477.67 L746.83,477.57 L747.10,477.48 L747.37,477.38 L747.63,477.28 L747.90,477.18 L748.17,477.08 L748.43,476.98 L748.70,476.88 L748.96,476.78 L749.23,476.68 L749.49,476.57 L749.75,476.47 L750.02,476.36 L750.28,476.25 L750.54,476.15 L750.80,476.04 L751.07,475.93 L751.33,475.82 L751.59,475.70 L751.85,475.59 L752.11,475.48 L752.37,475.36 L752.63,475.25 L752.88,475.13 L753.14,475.02 L753.40,474.90 L753.66,474.78 L753.91,474.66 L754.17,474.54 L754.43,474.42 L754.68,474.29 L754.94,474.17 L755.02,474.13 M770.49,464.45 L770.72,464.28 L770.94,464.10 L771.17,463.93 L771.39,463.75 L771.62,463.57 L771.84,463.39 L772.06,463.21 L772.28,463.03 L772.51,462.85 L772.73,462.67 L772.95,462.49 L773.17,462.31 L773.39,462.13 L773.61,461.94 L773.83,461.76 L774.05,461.57 L774.27,461.39 L774.48,461.20 L774.70,461.02 L774.92,460.83 L775.13,460.64 L775.35,460.45 L775.57,460.26 L775.78,460.07 L776.00,459.88 L776.21,459.69 L776.42,459.50 L776.64,459.31 L776.85,459.12 L777.06,458.92 L777.27,458.73 L777.48,458.53 L777.69,458.34 L777.91,458.14 L778.11,457.95 L778.32,457.75 L778.53,457.55 L778.74,457.35 L778.95,457.16 L779.16,456.96 L779.36,456.76 L779.57,456.56 L779.78,456.35 L779.98,456.15 L780.19,455.95 L780.39,455.75 M792.33,441.96 L792.50,441.72 L792.68,441.49 L792.85,441.26 L793.02,441.03 L793.19,440.80 L793.36,440.56 L793.53,440.33 L793.70,440.09 L793.87,439.86 L794.04,439.63 L794.20,439.39 L794.37,439.16 L794.54,438.92 L794.70,438.68 L794.87,438.45 L795.03,438.21 L795.20,437.98 L795.36,437.74 L795.53,437.50 L795.69,437.26 L795.85,437.03 L796.01,436.79 L796.17,436.55 L796.34,436.31 L796.50,436.07 L796.66,435.83 L796.82,435.59 L796.97,435.35 L797.13,435.11 L797.29,434.87 L797.45,434.63 L797.60,434.39 L797.76,434.15 L797.92,433.91 L798.07,433.66 L798.23,433.42 L798.38,433.18 L798.54,432.94 L798.69,432.69 L798.84,432.45 L798.99,432.21 L799.15,431.96 L799.30,431.72 L799.45,431.47 L799.60,431.23 L799.71,431.05 M808.30,414.93 L808.42,414.67 L808.54,414.41 L808.66,414.15 L808.78,413.89 L808.90,413.62 L809.01,413.36 L809.13,413.10 L809.25,412.84 L809.37,412.57 L809.49,412.31 L809.60,412.05 L809.72,411.78 L809.83,411.52 L809.95,411.25 L810.06,410.99 L810.18,410.72 L810.29,410.46 L810.41,410.19 L810.52,409.93 L810.63,409.66 L810.75,409.40 L810.86,409.13 L810.97,408.87 L811.08,408.60 L811.19,408.33 L811.30,408.07 L811.41,407.80 L811.52,407.53 L811.63,407.26 L811.74,407.00 L811.85,406.73 L811.96,406.46 L812.07,406.19 L812.18,405.92 L812.28,405.65 L812.39,405.39 L812.50,405.12 L812.60,404.85 L812.71,404.58 L812.81,404.31 L812.92,404.04 L813.02,403.77 L813.13,403.50 L813.23,403.23 L813.33,402.96 L813.40,402.78 M819.18,385.45 L819.26,385.17 L819.35,384.88 L819.43,384.60 L819.51,384.32 L819.59,384.04 L819.67,383.76 L819.75,383.47 L819.83,383.19 L819.91,382.91 L819.99,382.62 L820.07,382.34 L820.15,382.06 L820.23,381.77 L820.30,381.49 L820.38,381.21 L820.46,380.92 L820.54,380.64 L820.61,380.36 L820.69,380.07 L820.77,379.79 L820.84,379.50 L820.92,379.22 L820.99,378.93 L821.07,378.65 L821.15,378.36 L821.22,378.08 L821.29,377.79 L821.37,377.51 L821.44,377.22 L821.52,376.94 L821.59,376.65 L821.66,376.36 L821.74,376.08 L821.81,375.79 L821.88,375.51 L821.95,375.22 L822.03,374.93 L822.10,374.65 L822.17,374.36 L822.24,374.07 L822.31,373.78 L822.38,373.50 L822.45,373.21 L822.52,372.92 L822.57,372.71 M826.43,354.86 L826.49,354.57 L826.55,354.27 L826.60,353.98 L826.66,353.69 L826.71,353.39 L826.77,353.10 L826.82,352.81 L826.88,352.51 L826.93,352.22 L826.99,351.93 L827.04,351.63 L827.10,351.34 L827.15,351.04 L827.21,350.75 L827.26,350.46 L827.31,350.16 L827.37,349.87 L827.42,349.57 L827.47,349.28 L827.53,348.98 L827.58,348.69 L827.63,348.40 L827.69,348.10 L827.74,347.81 L827.79,347.51 L827.84,347.22 L827.90,346.92 L827.95,346.63 L828.00,346.33 L828.05,346.04 L828.10,345.74 L828.15,345.45 L828.20,345.15 L828.26,344.86 L828.31,344.56 L828.36,344.27 L828.41,343.97 L828.46,343.68 L828.51,343.38 L828.56,343.09 L828.61,342.79 L828.66,342.50 L828.71,342.20 L828.76,341.90 L828.76,341.88 M831.57,323.82 L831.62,323.52 L831.66,323.22 L831.70,322.93 L831.74,322.63 L831.79,322.34 L831.83,322.04 L831.87,321.74 L831.92,321.45 L831.96,321.15 L832.00,320.85 L832.04,320.56 L832.09,320.26 L832.13,319.97 L832.17,319.67 L832.21,319.37 L832.26,319.08 L832.30,318.78 L832.34,318.49 L832.38,318.19 L832.43,317.89 L832.47,317.60 L832.51,317.30 L832.55,317.01 L832.59,316.71 L832.64,316.41 L832.68,316.12 L832.72,315.82 L832.76,315.53 L832.80,315.23 L832.85,314.94 L832.89,314.64 L832.93,314.34 L832.97,314.05 L833.01,313.75 L833.05,313.46 L833.10,313.16 L833.14,312.87 L833.18,312.57 L833.22,312.28 L833.26,311.98 L833.30,311.69 L833.34,311.39 L833.39,311.10 L833.43,310.80 L833.43,310.78 M835.99,292.69 L836.03,292.39 L836.07,292.10 L836.11,291.81 L836.16,291.52 L836.20,291.23 L836.24,290.94 L836.28,290.65 L836.33,290.36 L836.37,290.07 L836.41,289.78 L836.46,289.49 L836.50,289.20 L836.54,288.91 L836.58,288.62 L836.63,288.33 L836.67,288.04 L836.71,287.75 L836.76,287.46 L836.80,287.17 L836.84,286.88 L836.89,286.59 L836.93,286.30 L836.97,286.02 L837.02,285.73 L837.06,285.44 L837.11,285.15 L837.15,284.86 L837.19,284.57 L837.24,284.28 L837.28,284.00 L837.33,283.71 L837.37,283.42 L837.41,283.13 L837.46,282.84 L837.50,282.56 L837.55,282.27 L837.59,281.98 L837.64,281.69 L837.68,281.41 L837.73,281.12 L837.77,280.83 L837.82,280.55 L837.86,280.26 L837.91,279.97 L837.95,279.69 L837.96,279.66 M840.94,261.62 L840.99,261.34 L841.04,261.06 L841.09,260.78 L841.13,260.50 L841.18,260.22 L841.23,259.93 L841.28,259.65 L841.33,259.37 L841.38,259.09 L841.43,258.81 L841.48,258.53 L841.53,258.25 L841.57,257.96 L841.62,257.68 L841.67,257.40 L841.72,257.12 L841.77,256.84 L841.82,256.56 L841.87,256.28 L841.92,256.00 L841.97,255.72 L842.02,255.44 L842.07,255.15 L842.11,254.87 L842.16,254.59 L842.21,254.31 L842.26,254.03 L842.31,253.75 L842.36,253.47 L842.41,253.19 L842.46,252.91 L842.51,252.63 L842.56,252.35 L842.61,252.07 L842.66,251.79 L842.71,251.51 L842.76,251.23 L842.81,250.95 L842.86,250.67 L842.91,250.39 L842.96,250.11 L843.01,249.83 L843.06,249.55 L843.11,249.27 L843.16,248.99 L843.21,248.71 L843.21,248.66 M846.44,230.67 L846.49,230.39 L846.54,230.11 L846.59,229.83 L846.64,229.55 L846.69,229.27 L846.74,228.99 L846.79,228.71 L846.84,228.43 L846.89,228.15 L846.94,227.87 L846.99,227.59 L847.04,227.31 L847.09,227.03 L847.14,226.75 L847.19,226.47 L847.24,226.19 L847.29,225.91 L847.34,225.63 L847.39,225.35 L847.44,225.07 L847.49,224.79 L847.53,224.51 L847.58,224.23 L847.63,223.95 L847.68,223.67 L847.73,223.39 L847.78,223.11 L847.83,222.83 L847.88,222.55 L847.93,222.27 L847.98,221.99 L848.03,221.71 L848.08,221.43 L848.13,221.14 L848.18,220.86 L848.23,220.58 L848.28,220.30 L848.33,220.02 L848.38,219.74 L848.43,219.46 L848.48,219.18 L848.52,218.90 L848.57,218.62 L848.62,218.34 L848.67,218.06 L848.72,217.78 L848.74,217.68 M851.78,199.67 L851.83,199.38 L851.88,199.10 L851.92,198.81 L851.97,198.53 L852.01,198.24 L852.06,197.96 L852.11,197.67 L852.15,197.38 L852.20,197.10 L852.24,196.81 L852.29,196.53 L852.33,196.24 L852.38,195.95 L852.43,195.67 L852.47,195.38 L852.52,195.09 L852.56,194.81 L852.61,194.52 L852.65,194.23 L852.70,193.95 L852.74,193.66 L852.79,193.37 L852.83,193.09 L852.88,192.80 L852.92,192.51 L852.97,192.22 L853.01,191.94 L853.06,191.65 L853.10,191.36 L853.14,191.07 L853.19,190.78 L853.23,190.50 L853.28,190.21 L853.32,189.92 L853.36,189.63 L853.41,189.34 L853.45,189.05 L853.50,188.77 L853.54,188.48 L853.58,188.19 L853.63,187.90 L853.67,187.61 L853.71,187.32 L853.76,187.03 L853.80,186.74 L853.81,186.64 M856.31,168.54 L856.35,168.24 L856.38,167.95 L856.42,167.65 L856.46,167.35 L856.50,167.05 L856.53,166.75 L856.57,166.45 L856.61,166.15 L856.64,165.86 L856.68,165.56 L856.72,165.26 L856.75,164.96 L856.79,164.66 L856.82,164.36 L856.86,164.06 L856.90,163.76 L856.93,163.46 L856.97,163.16 L857.00,162.86 L857.04,162.55 L857.07,162.25 L857.11,161.95 L857.14,161.65 L857.18,161.35 L857.21,161.05 L857.25,160.75 L857.28,160.44 L857.32,160.14 L857.35,159.84 L857.38,159.54 L857.42,159.23 L857.45,158.93 L857.49,158.63 L857.52,158.32 L857.55,158.02 L857.59,157.72 L857.62,157.41 L857.65,157.11 L857.69,156.80 L857.72,156.50 L857.75,156.20 L857.78,155.89 L857.82,155.59 L857.83,155.46" fill="none" stroke="#ff2a2a" stroke-width="3.2" stroke-linecap="round" stroke-linejoin="round"/>
</svg>
</body></html>
